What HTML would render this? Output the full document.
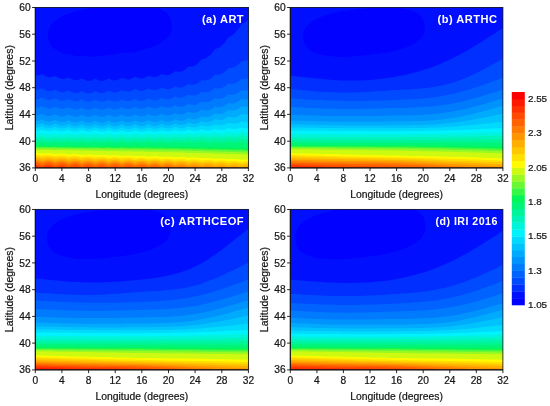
<!DOCTYPE html>
<html lang="en"><head><meta charset="utf-8"><title>Figure</title>
<style>html,body{margin:0;padding:0;background:#fff}body{width:550px;height:406px;overflow:hidden}svg{display:block;font-family:"Liberation Sans",Arial,sans-serif}.tk text,.ax,.cb text{stroke:#151515;stroke-width:.22px}.tk text{font-size:10.2px;fill:#151515}.ax{font-size:10.35px;fill:#151515}.ay{font-size:10.5px}.cb text{font-size:9.9px;fill:#151515}.pl{font-size:10.4px;font-weight:bold;fill:#fff;letter-spacing:.45px}</style></head><body>
<svg width="550" height="406" viewBox="0 0 550 406">
<rect width="550" height="406" fill="#fff"/>
<clipPath id="clipa"><rect x="35.3" y="7.5" width="213.1" height="160.4"/></clipPath>
<g clip-path="url(#clipa)">
<rect x="35.3" y="7.5" width="213.1" height="160.4" fill="#ff0000"/>
<polygon fill="#ff3100" points="33.3,2.5 33.3,167.2 35.3,167.2 37,167.5 38.6,168.1 40.3,169 42,170.1 43.6,169.2 45.3,168.4 47,167.9 48.6,167.8 50.3,168.1 51.9,168.7 53.6,169.6 55.3,170.7 56.9,169.8 58.6,169 60.3,168.5 61.9,168.4 63.6,168.6 65.3,169.3 66.9,170.2 68.6,171.3 70.3,170.3 71.9,169.6 73.6,169.1 75.3,168.9 76.9,169.2 78.6,169.8 80.3,170.7 81.9,171.8 83.6,170.9 85.2,170.1 86.9,169.6 88.6,169.5 90.2,169.7 91.9,170.4 93.6,171.3 95.2,171.9 96.9,171.4 98.6,170.6 100.2,170.1 101.9,170 103.6,170.3 105.2,170.9 106.9,171.8 108.6,171.9 110.2,171.9 111.9,171.1 113.5,170.6 115.2,170.5 116.9,170.8 118.5,171.4 120.2,171.9 121.9,171.9 123.5,171.9 125.2,171.7 126.9,171.2 128.5,171.1 130.2,171.4 131.9,171.9 133.5,171.9 135.2,171.9 136.9,171.9 138.5,171.9 140.2,171.9 141.8,171.8 143.5,171.9 145.2,171.9 146.8,171.9 148.5,171.9 150.2,171.9 151.8,171.9 153.5,171.9 155.2,171.9 156.8,171.9 158.5,171.9 160.2,171.9 161.8,171.9 163.5,171.9 165.2,171.9 166.8,171.9 168.5,171.9 170.2,171.9 171.8,171.9 173.5,171.9 175.1,171.9 176.8,171.9 178.5,171.9 180.1,171.9 181.8,171.9 183.5,171.9 185.1,171.9 186.8,171.9 188.5,171.9 190.1,171.9 191.8,171.9 193.5,171.9 195.1,171.9 196.8,171.9 198.5,171.9 200.1,171.9 201.8,171.9 203.4,171.9 205.1,171.9 206.8,171.9 208.4,171.9 210.1,171.9 211.8,171.9 213.4,171.9 215.1,171.9 216.8,171.9 218.4,171.9 220.1,171.9 221.8,171.9 223.4,171.9 225.1,171.9 226.8,171.9 228.4,171.9 230.1,171.9 231.8,171.9 233.4,171.9 235.1,171.9 236.7,171.9 238.4,171.9 240.1,171.9 241.7,171.9 243.4,171.9 245.1,171.9 246.7,171.9 248.4,171.9 250.4,180.2 250.4,2.5"/>
<polygon fill="#ff4a00" points="33.3,2.5 33.3,165.5 35.3,165.5 37,165.8 38.6,166.4 40.3,167.2 42,168.2 43.6,167.3 45.3,166.6 47,166.2 48.6,166.1 50.3,166.3 51.9,166.9 53.6,167.7 55.3,168.7 56.9,167.9 58.6,167.1 60.3,166.7 61.9,166.6 63.6,166.8 65.3,167.4 66.9,168.2 68.6,169.2 70.3,168.4 71.9,167.6 73.6,167.2 75.3,167.1 76.9,167.3 78.6,167.9 80.3,168.7 81.9,169.7 83.6,168.8 85.2,168.1 86.9,167.7 88.6,167.5 90.2,167.8 91.9,168.4 93.6,169.2 95.2,170.2 96.9,169.3 98.6,168.6 100.2,168.1 101.9,168 103.6,168.2 105.2,168.8 106.9,169.6 108.6,170.6 110.2,169.7 111.9,169 113.5,168.6 115.2,168.4 116.9,168.7 118.5,169.3 120.2,170.1 121.9,171.1 123.5,170.2 125.2,169.5 126.9,169.1 128.5,168.9 130.2,169.2 131.9,169.8 133.5,170.6 135.2,171.6 136.9,170.8 138.5,170.1 140.2,169.6 141.8,169.5 143.5,169.8 145.2,170.4 146.8,171.3 148.5,171.9 150.2,171.5 151.8,170.8 153.5,170.3 155.2,170.3 156.8,170.5 158.5,171.2 160.2,171.9 161.8,171.9 163.5,171.9 165.2,171.6 166.8,171.2 168.5,171.1 170.2,171.4 171.8,171.9 173.5,171.9 175.1,171.9 176.8,171.9 178.5,171.9 180.1,171.9 181.8,171.9 183.5,171.9 185.1,171.9 186.8,171.9 188.5,171.9 190.1,171.9 191.8,171.9 193.5,171.9 195.1,171.9 196.8,171.9 198.5,171.9 200.1,171.9 201.8,171.9 203.4,171.9 205.1,171.9 206.8,171.9 208.4,171.9 210.1,171.9 211.8,171.9 213.4,171.9 215.1,171.9 216.8,171.9 218.4,171.9 220.1,171.9 221.8,171.9 223.4,171.9 225.1,171.9 226.8,171.9 228.4,171.9 230.1,171.9 231.8,171.9 233.4,171.9 235.1,171.9 236.7,171.9 238.4,171.9 240.1,171.9 241.7,171.9 243.4,171.9 245.1,171.9 246.7,171.9 248.4,171.9 250.4,177.5 250.4,2.5"/>
<polygon fill="#ff6300" points="33.3,2.5 33.3,163.8 35.3,163.8 37,164.1 38.6,164.6 40.3,165.4 42,166.3 43.6,165.5 45.3,164.8 47,164.4 48.6,164.3 50.3,164.5 51.9,165 53.6,165.8 55.3,166.7 56.9,165.9 58.6,165.3 60.3,164.8 61.9,164.7 63.6,164.9 65.3,165.5 66.9,166.2 68.6,167.1 70.3,166.3 71.9,165.7 73.6,165.2 75.3,165.1 76.9,165.3 78.6,165.9 80.3,166.6 81.9,167.5 83.6,166.7 85.2,166 86.9,165.6 88.6,165.5 90.2,165.7 91.9,166.2 93.6,167 95.2,167.9 96.9,167 98.6,166.4 100.2,165.9 101.9,165.8 103.6,166 105.2,166.5 106.9,167.3 108.6,168.2 110.2,167.4 111.9,166.7 113.5,166.3 115.2,166.1 116.9,166.3 118.5,166.9 120.2,167.6 121.9,168.5 123.5,167.7 125.2,167.1 126.9,166.6 128.5,166.5 130.2,166.8 131.9,167.3 133.5,168.1 135.2,169 136.9,168.2 138.5,167.5 140.2,167.1 141.8,167 143.5,167.3 145.2,167.8 146.8,168.6 148.5,169.6 150.2,168.8 151.8,168.2 153.5,167.8 155.2,167.7 156.8,168 158.5,168.6 160.2,169.4 161.8,170.3 163.5,169.6 165.2,169 166.8,168.6 168.5,168.6 170.2,168.9 171.8,169.5 173.5,170.3 175.1,171.2 176.8,170.5 178.5,169.9 180.1,169.6 181.8,169.5 183.5,169.8 185.1,170.4 186.8,171.3 188.5,171.9 190.1,171.5 191.8,170.9 193.5,170.6 195.1,170.5 196.8,170.8 198.5,171.4 200.1,171.9 201.8,171.9 203.4,171.9 205.1,171.9 206.8,171.6 208.4,171.6 210.1,171.9 211.8,171.9 213.4,171.9 215.1,171.9 216.8,171.9 218.4,171.9 220.1,171.9 221.8,171.9 223.4,171.9 225.1,171.9 226.8,171.9 228.4,171.9 230.1,171.9 231.8,171.9 233.4,171.9 235.1,171.9 236.7,171.9 238.4,171.9 240.1,171.9 241.7,171.9 243.4,171.9 245.1,171.9 246.7,171.9 248.4,171.9 250.4,174.8 250.4,2.5"/>
<polygon fill="#ff7c00" points="33.3,2.5 33.3,162.2 35.3,162.2 37,162.4 38.6,162.9 40.3,163.6 42,164.4 43.6,163.7 45.3,163.1 47,162.7 48.6,162.6 50.3,162.8 51.9,163.3 53.6,164 55.3,164.8 56.9,164.1 58.6,163.5 60.3,163.1 61.9,163 63.6,163.2 65.3,163.6 66.9,164.3 68.6,165.2 70.3,164.4 71.9,163.8 73.6,163.4 75.3,163.3 76.9,163.5 78.6,164 80.3,164.7 81.9,165.5 83.6,164.7 85.2,164.1 86.9,163.7 88.6,163.6 90.2,163.8 91.9,164.2 93.6,164.9 95.2,165.7 96.9,165 98.6,164.4 100.2,164 101.9,163.8 103.6,164 105.2,164.5 106.9,165.1 108.6,165.9 110.2,165.2 111.9,164.6 113.5,164.2 115.2,164 116.9,164.2 118.5,164.7 120.2,165.4 121.9,166.2 123.5,165.5 125.2,164.8 126.9,164.5 128.5,164.3 130.2,164.5 131.9,165 133.5,165.7 135.2,166.5 136.9,165.8 138.5,165.3 140.2,164.9 141.8,164.8 143.5,165 145.2,165.5 146.8,166.3 148.5,167.1 150.2,166.4 151.8,165.9 153.5,165.5 155.2,165.4 156.8,165.7 158.5,166.2 160.2,167 161.8,167.8 163.5,167.2 165.2,166.6 166.8,166.3 168.5,166.3 170.2,166.5 171.8,167.1 173.5,167.8 175.1,168.7 176.8,168.1 178.5,167.5 180.1,167.2 181.8,167.2 183.5,167.5 185.1,168 186.8,168.8 188.5,169.7 190.1,169.1 191.8,168.5 193.5,168.2 195.1,168.2 196.8,168.5 198.5,169 200.1,169.8 201.8,170.7 203.4,170.1 205.1,169.5 206.8,169.2 208.4,169.2 210.1,169.5 211.8,170 213.4,170.8 215.1,171.7 216.8,171.1 218.4,170.5 220.1,170.2 221.8,170.2 223.4,170.5 225.1,171 226.8,171.8 228.4,171.9 230.1,171.9 231.8,171.5 233.4,171.2 235.1,171.2 236.7,171.5 238.4,171.9 240.1,171.9 241.7,171.9 243.4,171.9 245.1,171.9 246.7,171.9 248.4,171.9 250.4,172.2 250.4,2.5"/>
<polygon fill="#ff9600" points="33.3,2.5 33.3,160.8 35.3,160.8 37,161 38.6,161.5 40.3,162.1 42,162.8 43.6,162.2 45.3,161.7 47,161.3 48.6,161.2 50.3,161.4 51.9,161.8 53.6,162.5 55.3,163.2 56.9,162.6 58.6,162 60.3,161.7 61.9,161.6 63.6,161.8 65.3,162.2 66.9,162.8 68.6,163.6 70.3,162.9 71.9,162.4 73.6,162 75.3,161.9 76.9,162.1 78.6,162.5 80.3,163.1 81.9,163.9 83.6,163.2 85.2,162.7 86.9,162.3 88.6,162.2 90.2,162.4 91.9,162.8 93.6,163.4 95.2,164.1 96.9,163.4 98.6,162.9 100.2,162.5 101.9,162.4 103.6,162.6 105.2,163 106.9,163.6 108.6,164.3 110.2,163.6 111.9,163.1 113.5,162.7 115.2,162.6 116.9,162.8 118.5,163.2 120.2,163.8 121.9,164.5 123.5,163.9 125.2,163.3 126.9,163 128.5,162.9 130.2,163.1 131.9,163.5 133.5,164.1 135.2,164.9 136.9,164.2 138.5,163.7 140.2,163.4 141.8,163.3 143.5,163.5 145.2,163.9 146.8,164.6 148.5,165.3 150.2,164.7 151.8,164.2 153.5,163.9 155.2,163.8 156.8,164.1 158.5,164.5 160.2,165.2 161.8,166 163.5,165.4 165.2,164.9 166.8,164.6 168.5,164.5 170.2,164.8 171.8,165.3 173.5,165.9 175.1,166.7 176.8,166.1 178.5,165.7 180.1,165.4 181.8,165.3 183.5,165.6 185.1,166.1 186.8,166.8 188.5,167.6 190.1,167 191.8,166.5 193.5,166.2 195.1,166.2 196.8,166.4 198.5,166.9 200.1,167.6 201.8,168.4 203.4,167.8 205.1,167.4 206.8,167.1 208.4,167.1 210.1,167.3 211.8,167.8 213.4,168.5 215.1,169.3 216.8,168.7 218.4,168.2 220.1,167.9 221.8,167.9 223.4,168.2 225.1,168.7 226.8,169.4 228.4,170.2 230.1,169.6 231.8,169.1 233.4,168.8 235.1,168.8 236.7,169 238.4,169.5 240.1,170.2 241.7,171 243.4,170.4 245.1,170 246.7,169.7 248.4,169.7 250.4,169.7 250.4,2.5"/>
<polygon fill="#ffaf00" points="33.3,2.5 33.3,159.5 35.3,159.5 37,159.7 38.6,160 40.3,160.6 42,161.2 43.6,160.7 45.3,160.2 47,159.9 48.6,159.9 50.3,160 51.9,160.4 53.6,161 55.3,161.6 56.9,161.1 58.6,160.6 60.3,160.3 61.9,160.2 63.6,160.4 65.3,160.8 66.9,161.3 68.6,162 70.3,161.4 71.9,161 73.6,160.7 75.3,160.6 76.9,160.7 78.6,161.1 80.3,161.7 81.9,162.3 83.6,161.7 85.2,161.3 86.9,161 88.6,160.9 90.2,161 91.9,161.4 93.6,161.9 95.2,162.6 96.9,162 98.6,161.5 100.2,161.2 101.9,161.1 103.6,161.3 105.2,161.6 106.9,162.2 108.6,162.8 110.2,162.2 111.9,161.8 113.5,161.4 115.2,161.4 116.9,161.5 118.5,161.9 120.2,162.4 121.9,163 123.5,162.5 125.2,162 126.9,161.7 128.5,161.6 130.2,161.8 131.9,162.2 133.5,162.7 135.2,163.3 136.9,162.8 138.5,162.3 140.2,162 141.8,162 143.5,162.2 145.2,162.5 146.8,163.1 148.5,163.7 150.2,163.2 151.8,162.8 153.5,162.5 155.2,162.5 156.8,162.6 158.5,163 160.2,163.6 161.8,164.3 163.5,163.8 165.2,163.3 166.8,163.1 168.5,163 170.2,163.2 171.8,163.6 173.5,164.2 175.1,164.9 176.8,164.4 178.5,164 180.1,163.7 181.8,163.7 183.5,163.9 185.1,164.3 186.8,164.9 188.5,165.6 190.1,165.1 191.8,164.7 193.5,164.4 195.1,164.4 196.8,164.6 198.5,165 200.1,165.6 201.8,166.3 203.4,165.8 205.1,165.4 206.8,165.1 208.4,165.1 210.1,165.3 211.8,165.7 213.4,166.3 215.1,167 216.8,166.5 218.4,166.1 220.1,165.8 221.8,165.8 223.4,166 225.1,166.4 226.8,167 228.4,167.7 230.1,167.2 231.8,166.8 233.4,166.6 235.1,166.5 236.7,166.8 238.4,167.2 240.1,167.8 241.7,168.5 243.4,168 245.1,167.5 246.7,167.3 248.4,167.3 250.4,167.3 250.4,2.5"/>
<polygon fill="#ffc800" points="33.3,2.5 33.3,157.8 35.3,157.8 37,158 38.6,158.3 40.3,158.8 42,159.3 43.6,158.9 45.3,158.5 47,158.3 48.6,158.2 50.3,158.4 51.9,158.7 53.6,159.2 55.3,159.7 56.9,159.3 58.6,158.9 60.3,158.7 61.9,158.6 63.6,158.8 65.3,159.1 66.9,159.6 68.6,160.1 70.3,159.7 71.9,159.3 73.6,159.1 75.3,159 76.9,159.2 78.6,159.5 80.3,160 81.9,160.5 83.6,160 85.2,159.7 86.9,159.4 88.6,159.4 90.2,159.5 91.9,159.8 93.6,160.3 95.2,160.8 96.9,160.4 98.6,160 100.2,159.8 101.9,159.7 103.6,159.8 105.2,160.1 106.9,160.6 108.6,161.1 110.2,160.7 111.9,160.3 113.5,160.1 115.2,160 116.9,160.1 118.5,160.4 120.2,160.9 121.9,161.4 123.5,161 125.2,160.6 126.9,160.4 128.5,160.3 130.2,160.4 131.9,160.8 133.5,161.2 135.2,161.8 136.9,161.3 138.5,160.9 140.2,160.7 141.8,160.7 143.5,160.8 145.2,161.1 146.8,161.6 148.5,162.2 150.2,161.7 151.8,161.4 153.5,161.1 155.2,161.1 156.8,161.2 158.5,161.6 160.2,162.1 161.8,162.6 163.5,162.2 165.2,161.8 166.8,161.6 168.5,161.6 170.2,161.7 171.8,162.1 173.5,162.6 175.1,163.1 176.8,162.7 178.5,162.3 180.1,162.1 181.8,162.1 183.5,162.3 185.1,162.6 186.8,163.1 188.5,163.7 190.1,163.2 191.8,162.9 193.5,162.7 195.1,162.7 196.8,162.8 198.5,163.2 200.1,163.7 201.8,164.2 203.4,163.8 205.1,163.5 206.8,163.3 208.4,163.3 210.1,163.4 211.8,163.8 213.4,164.3 215.1,164.8 216.8,164.4 218.4,164.1 220.1,163.9 221.8,163.9 223.4,164 225.1,164.4 226.8,164.9 228.4,165.4 230.1,165 231.8,164.7 233.4,164.5 235.1,164.5 236.7,164.6 238.4,165 240.1,165.5 241.7,166.1 243.4,165.7 245.1,165.3 246.7,165.1 248.4,165.1 250.4,165.1 250.4,2.5"/>
<polygon fill="#ffe100" points="33.3,2.5 33.3,156.1 35.3,156.1 37,156.2 38.6,156.5 40.3,156.9 42,157.3 43.6,157 45.3,156.7 47,156.6 48.6,156.5 50.3,156.7 51.9,156.9 53.6,157.3 55.3,157.8 56.9,157.4 58.6,157.2 60.3,157 61.9,157 63.6,157.1 65.3,157.4 66.9,157.8 68.6,158.2 70.3,157.9 71.9,157.6 73.6,157.4 75.3,157.4 76.9,157.5 78.6,157.8 80.3,158.2 81.9,158.6 83.6,158.3 85.2,158 86.9,157.8 88.6,157.8 90.2,157.9 91.9,158.2 93.6,158.6 95.2,159 96.9,158.7 98.6,158.4 100.2,158.2 101.9,158.2 103.6,158.3 105.2,158.6 106.9,158.9 108.6,159.4 110.2,159 111.9,158.8 113.5,158.6 115.2,158.5 116.9,158.7 118.5,158.9 120.2,159.3 121.9,159.8 123.5,159.4 125.2,159.1 126.9,158.9 128.5,158.9 130.2,159 131.9,159.3 133.5,159.7 135.2,160.1 136.9,159.8 138.5,159.5 140.2,159.3 141.8,159.3 143.5,159.4 145.2,159.7 146.8,160.1 148.5,160.5 150.2,160.2 151.8,159.9 153.5,159.7 155.2,159.7 156.8,159.8 158.5,160.1 160.2,160.5 161.8,160.9 163.5,160.6 165.2,160.3 166.8,160.1 168.5,160.1 170.2,160.2 171.8,160.5 173.5,160.9 175.1,161.3 176.8,161 178.5,160.7 180.1,160.5 181.8,160.5 183.5,160.7 185.1,160.9 186.8,161.3 188.5,161.8 190.1,161.4 191.8,161.2 193.5,161 195.1,161 196.8,161.1 198.5,161.4 200.1,161.8 201.8,162.3 203.4,161.9 205.1,161.7 206.8,161.5 208.4,161.5 210.1,161.6 211.8,161.9 213.4,162.3 215.1,162.8 216.8,162.4 218.4,162.2 220.1,162 221.8,162 223.4,162.1 225.1,162.4 226.8,162.8 228.4,163.3 230.1,163 231.8,162.7 233.4,162.6 235.1,162.5 236.7,162.7 238.4,163 240.1,163.4 241.7,163.8 243.4,163.5 245.1,163.2 246.7,163.1 248.4,163.1 250.4,163.1 250.4,2.5"/>
<polygon fill="#fffa00" points="33.3,2.5 33.3,154.6 35.3,154.6 37,154.7 38.6,155 40.3,155.3 42,155.6 43.6,155.4 45.3,155.2 47,155.1 48.6,155.1 50.3,155.2 51.9,155.4 53.6,155.7 55.3,156.1 56.9,155.8 58.6,155.6 60.3,155.5 61.9,155.5 63.6,155.6 65.3,155.8 66.9,156.1 68.6,156.5 70.3,156.3 71.9,156.1 73.6,155.9 75.3,155.9 76.9,156.1 78.6,156.3 80.3,156.6 81.9,156.9 83.6,156.7 85.2,156.5 86.9,156.4 88.6,156.4 90.2,156.5 91.9,156.7 93.6,157 95.2,157.3 96.9,157.1 98.6,156.9 100.2,156.8 101.9,156.7 103.6,156.8 105.2,157.1 106.9,157.4 108.6,157.7 110.2,157.5 111.9,157.3 113.5,157.1 115.2,157.1 116.9,157.2 118.5,157.4 120.2,157.7 121.9,158.1 123.5,157.8 125.2,157.6 126.9,157.5 128.5,157.5 130.2,157.6 131.9,157.8 133.5,158.1 135.2,158.4 136.9,158.2 138.5,158 140.2,157.9 141.8,157.9 143.5,158 145.2,158.2 146.8,158.5 148.5,158.8 150.2,158.6 151.8,158.4 153.5,158.2 155.2,158.2 156.8,158.3 158.5,158.6 160.2,158.9 161.8,159.2 163.5,158.9 165.2,158.8 166.8,158.6 168.5,158.6 170.2,158.7 171.8,159 173.5,159.2 175.1,159.6 176.8,159.4 178.5,159.2 180.1,159 181.8,159 183.5,159.2 185.1,159.4 186.8,159.7 188.5,160 190.1,159.8 191.8,159.6 193.5,159.5 195.1,159.5 196.8,159.6 198.5,159.8 200.1,160.1 201.8,160.5 203.4,160.3 205.1,160.1 206.8,160 208.4,160 210.1,160.1 211.8,160.3 213.4,160.6 215.1,161 216.8,160.8 218.4,160.6 220.1,160.5 221.8,160.5 223.4,160.6 225.1,160.8 226.8,161.1 228.4,161.5 230.1,161.3 231.8,161.1 233.4,161 235.1,161 236.7,161.1 238.4,161.4 240.1,161.7 241.7,162 243.4,161.8 245.1,161.6 246.7,161.5 248.4,161.6 250.4,161.6 250.4,2.5"/>
<polygon fill="#cefa11" points="33.3,2.5 33.3,152.9 35.3,152.9 37,153 38.6,153.2 40.3,153.4 42,153.6 43.6,153.5 45.3,153.4 47,153.3 48.6,153.3 50.3,153.4 51.9,153.6 53.6,153.8 55.3,154 56.9,153.9 58.6,153.8 60.3,153.7 61.9,153.7 63.6,153.8 65.3,154 66.9,154.2 68.6,154.4 70.3,154.3 71.9,154.2 73.6,154.1 75.3,154.1 76.9,154.2 78.6,154.4 80.3,154.6 81.9,154.8 83.6,154.7 85.2,154.6 86.9,154.5 88.6,154.5 90.2,154.6 91.9,154.7 93.6,154.9 95.2,155.2 96.9,155 98.6,154.9 100.2,154.9 101.9,154.9 103.6,154.9 105.2,155.1 106.9,155.3 108.6,155.5 110.2,155.4 111.9,155.3 113.5,155.2 115.2,155.2 116.9,155.3 118.5,155.4 120.2,155.6 121.9,155.9 123.5,155.7 125.2,155.6 126.9,155.5 128.5,155.6 130.2,155.6 131.9,155.8 133.5,156 135.2,156.2 136.9,156.1 138.5,156 140.2,155.9 141.8,155.9 143.5,156 145.2,156.1 146.8,156.3 148.5,156.6 150.2,156.4 151.8,156.3 153.5,156.3 155.2,156.3 156.8,156.3 158.5,156.5 160.2,156.7 161.8,156.9 163.5,156.8 165.2,156.7 166.8,156.6 168.5,156.6 170.2,156.7 171.8,156.9 173.5,157.1 175.1,157.3 176.8,157.2 178.5,157.1 180.1,157 181.8,157.1 183.5,157.1 185.1,157.3 186.8,157.5 188.5,157.8 190.1,157.6 191.8,157.5 193.5,157.5 195.1,157.5 196.8,157.6 198.5,157.8 200.1,158 201.8,158.2 203.4,158.1 205.1,158 206.8,158 208.4,158 210.1,158.1 211.8,158.3 213.4,158.5 215.1,158.7 216.8,158.6 218.4,158.5 220.1,158.5 221.8,158.5 223.4,158.6 225.1,158.8 226.8,159 228.4,159.3 230.1,159.1 231.8,159.1 233.4,159 235.1,159 236.7,159.2 238.4,159.3 240.1,159.6 241.7,159.8 243.4,159.7 245.1,159.6 246.7,159.6 248.4,159.6 250.4,159.6 250.4,2.5"/>
<polygon fill="#9bf922" points="33.3,2.5 33.3,149.8 35.3,149.8 37,149.8 38.6,149.9 40.3,150 42,150.2 43.6,150.1 45.3,150 47,150 48.6,150 50.3,150.1 51.9,150.2 53.6,150.3 55.3,150.4 56.9,150.3 58.6,150.3 60.3,150.2 61.9,150.2 63.6,150.3 65.3,150.4 66.9,150.5 68.6,150.6 70.3,150.6 71.9,150.5 73.6,150.5 75.3,150.5 76.9,150.5 78.6,150.6 80.3,150.7 81.9,150.9 83.6,150.8 85.2,150.7 86.9,150.7 88.6,150.7 90.2,150.7 91.9,150.8 93.6,150.9 95.2,151.1 96.9,151 98.6,150.9 100.2,150.9 101.9,150.9 103.6,150.9 105.2,151 106.9,151.2 108.6,151.3 110.2,151.2 111.9,151.1 113.5,151.1 115.2,151.1 116.9,151.2 118.5,151.3 120.2,151.4 121.9,151.5 123.5,151.4 125.2,151.4 126.9,151.3 128.5,151.3 130.2,151.4 131.9,151.5 133.5,151.6 135.2,151.7 136.9,151.7 138.5,151.6 140.2,151.6 141.8,151.6 143.5,151.6 145.2,151.7 146.8,151.9 148.5,152 150.2,151.9 151.8,151.9 153.5,151.9 155.2,151.9 156.8,151.9 158.5,152 160.2,152.1 161.8,152.3 163.5,152.2 165.2,152.2 166.8,152.2 168.5,152.2 170.2,152.2 171.8,152.3 173.5,152.5 175.1,152.6 176.8,152.6 178.5,152.5 180.1,152.5 181.8,152.5 183.5,152.6 185.1,152.7 186.8,152.8 188.5,153 190.1,152.9 191.8,152.9 193.5,152.9 195.1,152.9 196.8,153 198.5,153.1 200.1,153.2 201.8,153.4 203.4,153.3 205.1,153.3 206.8,153.3 208.4,153.3 210.1,153.4 211.8,153.5 213.4,153.6 215.1,153.8 216.8,153.7 218.4,153.7 220.1,153.7 221.8,153.7 223.4,153.8 225.1,153.9 226.8,154 228.4,154.2 230.1,154.1 231.8,154.1 233.4,154.1 235.1,154.1 236.7,154.2 238.4,154.3 240.1,154.5 241.7,154.6 243.4,154.6 245.1,154.6 246.7,154.6 248.4,154.6 250.4,154.6 250.4,2.5"/>
<polygon fill="#68f834" points="33.3,2.5 33.3,148.4 35.3,148.4 37,148.4 38.6,148.5 40.3,148.5 42,148.6 43.6,148.6 45.3,148.6 47,148.6 48.6,148.6 50.3,148.6 51.9,148.7 53.6,148.7 55.3,148.7 56.9,148.8 58.6,148.8 60.3,148.8 61.9,148.8 63.6,148.8 65.3,148.8 66.9,148.9 68.6,148.9 70.3,148.9 71.9,148.9 73.6,148.9 75.3,149 76.9,149 78.6,149 80.3,149.1 81.9,149.1 83.6,149.1 85.2,149.1 86.9,149.1 88.6,149.1 90.2,149.2 91.9,149.2 93.6,149.2 95.2,149.3 96.9,149.3 98.6,149.3 100.2,149.3 101.9,149.3 103.6,149.3 105.2,149.3 106.9,149.4 108.6,149.4 110.2,149.4 111.9,149.4 113.5,149.4 115.2,149.4 116.9,149.5 118.5,149.5 120.2,149.5 121.9,149.6 123.5,149.6 125.2,149.6 126.9,149.6 128.5,149.6 130.2,149.6 131.9,149.7 133.5,149.7 135.2,149.7 136.9,149.7 138.5,149.7 140.2,149.8 141.8,149.8 143.5,149.8 145.2,149.9 146.8,149.9 148.5,149.9 150.2,150 151.8,150 153.5,150 155.2,150 156.8,150.1 158.5,150.1 160.2,150.1 161.8,150.2 163.5,150.2 165.2,150.2 166.8,150.3 168.5,150.3 170.2,150.3 171.8,150.4 173.5,150.4 175.1,150.5 176.8,150.5 178.5,150.5 180.1,150.6 181.8,150.6 183.5,150.6 185.1,150.7 186.8,150.7 188.5,150.8 190.1,150.8 191.8,150.8 193.5,150.9 195.1,150.9 196.8,151 198.5,151 200.1,151.1 201.8,151.1 203.4,151.2 205.1,151.2 206.8,151.2 208.4,151.3 210.1,151.3 211.8,151.4 213.4,151.5 215.1,151.5 216.8,151.6 218.4,151.6 220.1,151.6 221.8,151.7 223.4,151.7 225.1,151.8 226.8,151.8 228.4,151.9 230.1,151.9 231.8,152 233.4,152 235.1,152.1 236.7,152.1 238.4,152.2 240.1,152.2 241.7,152.3 243.4,152.3 245.1,152.4 246.7,152.4 248.4,152.5 250.4,152.5 250.4,2.5"/>
<polygon fill="#35f746" points="33.3,2.5 33.3,147.5 35.3,147.5 37,147.5 38.6,147.5 40.3,147.4 42,147.4 43.6,147.5 45.3,147.5 47,147.6 48.6,147.6 50.3,147.6 51.9,147.6 53.6,147.6 55.3,147.5 56.9,147.6 58.6,147.7 60.3,147.8 61.9,147.8 63.6,147.8 65.3,147.8 66.9,147.7 68.6,147.7 70.3,147.8 71.9,147.9 73.6,147.9 75.3,147.9 76.9,147.9 78.6,147.9 80.3,147.9 81.9,147.8 83.6,147.9 85.2,148 86.9,148 88.6,148.1 90.2,148.1 91.9,148 93.6,148 95.2,148 96.9,148 98.6,148.1 100.2,148.2 101.9,148.2 103.6,148.2 105.2,148.2 106.9,148.1 108.6,148.1 110.2,148.1 111.9,148.2 113.5,148.3 115.2,148.3 116.9,148.3 118.5,148.3 120.2,148.2 121.9,148.2 123.5,148.3 125.2,148.3 126.9,148.4 128.5,148.4 130.2,148.4 131.9,148.4 133.5,148.4 135.2,148.3 136.9,148.4 138.5,148.5 140.2,148.5 141.8,148.6 143.5,148.6 145.2,148.6 146.8,148.5 148.5,148.5 150.2,148.6 151.8,148.7 153.5,148.7 155.2,148.8 156.8,148.8 158.5,148.8 160.2,148.7 161.8,148.7 163.5,148.8 165.2,148.9 166.8,149 168.5,149 170.2,149 171.8,149 173.5,149 175.1,149 176.8,149.1 178.5,149.1 180.1,149.2 181.8,149.3 183.5,149.3 185.1,149.3 186.8,149.3 188.5,149.2 190.1,149.3 191.8,149.4 193.5,149.5 195.1,149.6 196.8,149.6 198.5,149.6 200.1,149.6 201.8,149.6 203.4,149.7 205.1,149.8 206.8,149.8 208.4,149.9 210.1,149.9 211.8,149.9 213.4,149.9 215.1,149.9 216.8,150 218.4,150.1 220.1,150.2 221.8,150.2 223.4,150.3 225.1,150.3 226.8,150.3 228.4,150.2 230.1,150.4 231.8,150.5 233.4,150.5 235.1,150.6 236.7,150.6 238.4,150.6 240.1,150.6 241.7,150.6 243.4,150.7 245.1,150.8 246.7,150.9 248.4,151 250.4,151 250.4,2.5"/>
<polygon fill="#02f657" points="33.3,2.5 33.3,146.8 35.3,146.8 37,146.8 38.6,146.7 40.3,146.6 42,146.4 43.6,146.6 45.3,146.8 47,146.9 48.6,146.9 50.3,146.9 51.9,146.8 53.6,146.7 55.3,146.6 56.9,146.8 58.6,146.9 60.3,147 61.9,147.1 63.6,147 65.3,147 66.9,146.9 68.6,146.7 70.3,146.9 71.9,147 73.6,147.1 75.3,147.2 76.9,147.2 78.6,147.1 80.3,147 81.9,146.8 83.6,147 85.2,147.1 86.9,147.2 88.6,147.3 90.2,147.3 91.9,147.2 93.6,147.1 95.2,146.9 96.9,147.1 98.6,147.2 100.2,147.3 101.9,147.4 103.6,147.4 105.2,147.3 106.9,147.2 108.6,147 110.2,147.2 111.9,147.3 113.5,147.4 115.2,147.5 116.9,147.4 118.5,147.4 120.2,147.3 121.9,147.1 123.5,147.3 125.2,147.4 126.9,147.5 128.5,147.6 130.2,147.5 131.9,147.5 133.5,147.4 135.2,147.2 136.9,147.4 138.5,147.5 140.2,147.6 141.8,147.7 143.5,147.7 145.2,147.6 146.8,147.5 148.5,147.4 150.2,147.5 151.8,147.7 153.5,147.8 155.2,147.9 156.8,147.8 158.5,147.8 160.2,147.7 161.8,147.6 163.5,147.7 165.2,147.9 166.8,148 168.5,148.1 170.2,148.1 171.8,148 173.5,147.9 175.1,147.8 176.8,148 178.5,148.1 180.1,148.2 181.8,148.3 183.5,148.3 185.1,148.2 186.8,148.2 188.5,148 190.1,148.2 191.8,148.4 193.5,148.5 195.1,148.6 196.8,148.6 198.5,148.5 200.1,148.4 201.8,148.3 203.4,148.5 205.1,148.7 206.8,148.8 208.4,148.8 210.1,148.9 211.8,148.8 213.4,148.7 215.1,148.6 216.8,148.8 218.4,149 220.1,149.1 221.8,149.1 223.4,149.2 225.1,149.1 226.8,149 228.4,148.9 230.1,149.1 231.8,149.3 233.4,149.4 235.1,149.5 236.7,149.5 238.4,149.4 240.1,149.3 241.7,149.2 243.4,149.4 245.1,149.6 246.7,149.7 248.4,149.8 250.4,149.8 250.4,2.5"/>
<polygon fill="#00f578" points="33.3,2.5 33.3,145.8 35.3,145.8 37,145.8 38.6,145.7 40.3,145.5 42,145.3 43.6,145.5 45.3,145.7 47,145.9 48.6,145.9 50.3,145.9 51.9,145.8 53.6,145.6 55.3,145.4 56.9,145.7 58.6,145.9 60.3,146 61.9,146 63.6,146 65.3,145.9 66.9,145.7 68.6,145.5 70.3,145.8 71.9,146 73.6,146.1 75.3,146.1 76.9,146.1 78.6,146 80.3,145.8 81.9,145.6 83.6,145.8 85.2,146 86.9,146.2 88.6,146.2 90.2,146.2 91.9,146.1 93.6,145.9 95.2,145.7 96.9,145.9 98.6,146.1 100.2,146.2 101.9,146.3 103.6,146.3 105.2,146.1 106.9,146 108.6,145.8 110.2,146 111.9,146.2 113.5,146.3 115.2,146.4 116.9,146.3 118.5,146.2 120.2,146 121.9,145.8 123.5,146.1 125.2,146.2 126.9,146.4 128.5,146.4 130.2,146.4 131.9,146.3 133.5,146.1 135.2,145.9 136.9,146.1 138.5,146.3 140.2,146.5 141.8,146.5 143.5,146.5 145.2,146.4 146.8,146.2 148.5,146 150.2,146.3 151.8,146.5 153.5,146.6 155.2,146.7 156.8,146.6 158.5,146.5 160.2,146.4 161.8,146.2 163.5,146.4 165.2,146.6 166.8,146.8 168.5,146.8 170.2,146.8 171.8,146.7 173.5,146.5 175.1,146.4 176.8,146.6 178.5,146.8 180.1,146.9 181.8,147 183.5,147 185.1,146.9 186.8,146.7 188.5,146.6 190.1,146.8 191.8,147 193.5,147.2 195.1,147.2 196.8,147.2 198.5,147.1 200.1,147 201.8,146.8 203.4,147 205.1,147.2 206.8,147.4 208.4,147.4 210.1,147.4 211.8,147.3 213.4,147.2 215.1,147 216.8,147.2 218.4,147.4 220.1,147.6 221.8,147.7 223.4,147.6 225.1,147.6 226.8,147.4 228.4,147.2 230.1,147.5 231.8,147.7 233.4,147.8 235.1,147.9 236.7,147.9 238.4,147.8 240.1,147.6 241.7,147.4 243.4,147.7 245.1,147.9 246.7,148.1 248.4,148.1 250.4,148.1 250.4,2.5"/>
<polygon fill="#00f499" points="33.3,2.5 33.3,142.6 35.3,142.6 37,142.5 38.6,142.4 40.3,142.2 42,141.9 43.6,142.2 45.3,142.4 47,142.6 48.6,142.6 50.3,142.6 51.9,142.4 53.6,142.2 55.3,141.9 56.9,142.2 58.6,142.4 60.3,142.6 61.9,142.6 63.6,142.6 65.3,142.4 66.9,142.2 68.6,141.9 70.3,142.2 71.9,142.4 73.6,142.6 75.3,142.7 76.9,142.6 78.6,142.5 80.3,142.2 81.9,142 83.6,142.2 85.2,142.5 86.9,142.6 88.6,142.7 90.2,142.6 91.9,142.5 93.6,142.3 95.2,142 96.9,142.3 98.6,142.5 100.2,142.7 101.9,142.7 103.6,142.7 105.2,142.5 106.9,142.3 108.6,142 110.2,142.3 111.9,142.5 113.5,142.7 115.2,142.7 116.9,142.7 118.5,142.5 120.2,142.3 121.9,142 123.5,142.3 125.2,142.6 126.9,142.7 128.5,142.8 130.2,142.7 131.9,142.6 133.5,142.3 135.2,142.1 136.9,142.3 138.5,142.6 140.2,142.7 141.8,142.8 143.5,142.7 145.2,142.6 146.8,142.3 148.5,142.1 150.2,142.3 151.8,142.6 153.5,142.7 155.2,142.8 156.8,142.7 158.5,142.6 160.2,142.4 161.8,142.1 163.5,142.4 165.2,142.6 166.8,142.7 168.5,142.8 170.2,142.7 171.8,142.6 173.5,142.4 175.1,142.1 176.8,142.3 178.5,142.6 180.1,142.7 181.8,142.8 183.5,142.7 185.1,142.6 186.8,142.3 188.5,142.1 190.1,142.3 191.8,142.6 193.5,142.7 195.1,142.8 196.8,142.7 198.5,142.6 200.1,142.3 201.8,142.1 203.4,142.3 205.1,142.6 206.8,142.7 208.4,142.8 210.1,142.7 211.8,142.6 213.4,142.3 215.1,142.1 216.8,142.3 218.4,142.6 220.1,142.7 221.8,142.8 223.4,142.7 225.1,142.6 226.8,142.3 228.4,142.1 230.1,142.3 231.8,142.6 233.4,142.7 235.1,142.8 236.7,142.7 238.4,142.6 240.1,142.3 241.7,142.1 243.4,142.3 245.1,142.6 246.7,142.7 248.4,142.8 250.4,142.8 250.4,2.5"/>
<polygon fill="#00f4ba" points="33.3,2.5 33.3,140.1 35.3,140.1 37,140 38.6,139.8 40.3,139.6 42,139.2 43.6,139.6 45.3,139.8 47,140 48.6,140.1 50.3,140 51.9,139.9 53.6,139.6 55.3,139.2 56.9,139.6 58.6,139.9 60.3,140.1 61.9,140.1 63.6,140.1 65.3,139.9 66.9,139.6 68.6,139.3 70.3,139.6 71.9,139.9 73.6,140.1 75.3,140.1 76.9,140.1 78.6,139.9 80.3,139.6 81.9,139.3 83.6,139.6 85.2,139.9 86.9,140.1 88.6,140.1 90.2,140.1 91.9,139.9 93.6,139.6 95.2,139.3 96.9,139.6 98.6,139.9 100.2,140.1 101.9,140.2 103.6,140.1 105.2,139.9 106.9,139.6 108.6,139.3 110.2,139.6 111.9,139.9 113.5,140.1 115.2,140.2 116.9,140.1 118.5,139.9 120.2,139.6 121.9,139.3 123.5,139.6 125.2,139.9 126.9,140.1 128.5,140.1 130.2,140.1 131.9,139.9 133.5,139.6 135.2,139.2 136.9,139.6 138.5,139.9 140.2,140 141.8,140.1 143.5,140 145.2,139.8 146.8,139.6 148.5,139.2 150.2,139.5 151.8,139.8 153.5,140 155.2,140.1 156.8,140 158.5,139.8 160.2,139.5 161.8,139.2 163.5,139.5 165.2,139.8 166.8,139.9 168.5,140 170.2,139.9 171.8,139.7 173.5,139.4 175.1,139.1 176.8,139.4 178.5,139.7 180.1,139.9 181.8,139.9 183.5,139.8 185.1,139.6 186.8,139.3 188.5,139 190.1,139.3 191.8,139.6 193.5,139.8 195.1,139.8 196.8,139.7 198.5,139.5 200.1,139.2 201.8,138.9 203.4,139.2 205.1,139.5 206.8,139.6 208.4,139.7 210.1,139.6 211.8,139.4 213.4,139.1 215.1,138.7 216.8,139.1 218.4,139.3 220.1,139.5 221.8,139.6 223.4,139.5 225.1,139.3 226.8,139 228.4,138.6 230.1,138.9 231.8,139.2 233.4,139.4 235.1,139.4 236.7,139.3 238.4,139.1 240.1,138.8 241.7,138.5 243.4,138.8 245.1,139.1 246.7,139.2 248.4,139.3 250.4,139.3 250.4,2.5"/>
<polygon fill="#00f3db" points="33.3,2.5 33.3,137.6 35.3,137.6 37,137.5 38.6,137.3 40.3,137 42,136.6 43.6,137 45.3,137.3 47,137.6 48.6,137.6 50.3,137.6 51.9,137.4 53.6,137 55.3,136.6 56.9,137 58.6,137.4 60.3,137.6 61.9,137.7 63.6,137.6 65.3,137.4 66.9,137 68.6,136.7 70.3,137.1 71.9,137.4 73.6,137.6 75.3,137.7 76.9,137.6 78.6,137.4 80.3,137.1 81.9,136.7 83.6,137.1 85.2,137.4 86.9,137.6 88.6,137.7 90.2,137.6 91.9,137.4 93.6,137.1 95.2,136.7 96.9,137.1 98.6,137.4 100.2,137.6 101.9,137.7 103.6,137.6 105.2,137.4 106.9,137.1 108.6,136.7 110.2,137.1 111.9,137.4 113.5,137.6 115.2,137.7 116.9,137.6 118.5,137.4 120.2,137.1 121.9,136.6 123.5,137 125.2,137.4 126.9,137.6 128.5,137.7 130.2,137.6 131.9,137.4 133.5,137 135.2,136.6 136.9,137 138.5,137.3 140.2,137.5 141.8,137.6 143.5,137.5 145.2,137.3 146.8,136.9 148.5,136.5 150.2,136.9 151.8,137.3 153.5,137.5 155.2,137.5 156.8,137.4 158.5,137.2 160.2,136.9 161.8,136.4 163.5,136.8 165.2,137.2 166.8,137.4 168.5,137.4 170.2,137.3 171.8,137.1 173.5,136.7 175.1,136.3 176.8,136.7 178.5,137 180.1,137.2 181.8,137.3 183.5,137.2 185.1,136.9 186.8,136.6 188.5,136.2 190.1,136.5 191.8,136.9 193.5,137.1 195.1,137.1 196.8,137 198.5,136.8 200.1,136.4 201.8,136 203.4,136.3 205.1,136.7 206.8,136.9 208.4,136.9 210.1,136.8 211.8,136.5 213.4,136.2 215.1,135.7 216.8,136.1 218.4,136.4 220.1,136.6 221.8,136.7 223.4,136.5 225.1,136.3 226.8,135.9 228.4,135.5 230.1,135.9 231.8,136.2 233.4,136.3 235.1,136.4 236.7,136.3 238.4,136 240.1,135.6 241.7,135.2 243.4,135.6 245.1,135.9 246.7,136.1 248.4,136.1 250.4,136.1 250.4,2.5"/>
<polygon fill="#00f2fc" points="33.3,2.5 33.3,134.4 35.3,134.4 37,134.4 38.6,134.1 40.3,133.7 42,133.3 43.6,133.7 45.3,134.1 47,134.4 48.6,134.5 50.3,134.4 51.9,134.2 53.6,133.8 55.3,133.3 56.9,133.8 58.6,134.2 60.3,134.5 61.9,134.6 63.6,134.5 65.3,134.2 66.9,133.9 68.6,133.4 70.3,133.9 71.9,134.3 73.6,134.5 75.3,134.6 76.9,134.6 78.6,134.3 80.3,133.9 81.9,133.5 83.6,133.9 85.2,134.3 86.9,134.6 88.6,134.7 90.2,134.6 91.9,134.4 93.6,134 95.2,133.5 96.9,134 98.6,134.4 100.2,134.7 101.9,134.8 103.6,134.7 105.2,134.4 106.9,134 108.6,133.6 110.2,134 111.9,134.4 113.5,134.7 115.2,134.8 116.9,134.7 118.5,134.4 120.2,134 121.9,133.6 123.5,134.1 125.2,134.4 126.9,134.7 128.5,134.8 130.2,134.7 131.9,134.4 133.5,134 135.2,133.6 136.9,134 138.5,134.4 140.2,134.7 141.8,134.8 143.5,134.7 145.2,134.4 146.8,134 148.5,133.5 150.2,134 151.8,134.3 153.5,134.6 155.2,134.7 156.8,134.6 158.5,134.3 160.2,133.9 161.8,133.4 163.5,133.9 165.2,134.2 166.8,134.5 168.5,134.5 170.2,134.4 171.8,134.1 173.5,133.7 175.1,133.2 176.8,133.7 178.5,134 180.1,134.3 181.8,134.3 183.5,134.2 185.1,133.9 186.8,133.5 188.5,133 190.1,133.5 191.8,133.8 193.5,134 195.1,134.1 196.8,134 198.5,133.7 200.1,133.2 201.8,132.8 203.4,133.2 205.1,133.5 206.8,133.7 208.4,133.8 210.1,133.7 211.8,133.4 213.4,132.9 215.1,132.4 216.8,132.8 218.4,133.2 220.1,133.4 221.8,133.4 223.4,133.3 225.1,133 226.8,132.6 228.4,132.1 230.1,132.5 231.8,132.8 233.4,133 235.1,133.1 236.7,132.9 238.4,132.6 240.1,132.2 241.7,131.7 243.4,132.1 245.1,132.4 246.7,132.6 248.4,132.7 250.4,132.7 250.4,2.5"/>
<polygon fill="#00dbfd" points="33.3,2.5 33.3,131.1 35.3,131.1 37,131 38.6,130.7 40.3,130.2 42,129.7 43.6,130.3 45.3,130.8 47,131.1 48.6,131.2 50.3,131.1 51.9,130.8 53.6,130.4 55.3,129.8 56.9,130.4 58.6,130.9 60.3,131.2 61.9,131.3 63.6,131.3 65.3,130.9 66.9,130.5 68.6,129.9 70.3,130.5 71.9,131 73.6,131.3 75.3,131.5 76.9,131.4 78.6,131.1 80.3,130.6 81.9,130.1 83.6,130.6 85.2,131.1 86.9,131.5 88.6,131.6 90.2,131.5 91.9,131.2 93.6,130.7 95.2,130.2 96.9,130.7 98.6,131.2 100.2,131.6 101.9,131.7 103.6,131.6 105.2,131.3 106.9,130.8 108.6,130.3 110.2,130.8 111.9,131.3 113.5,131.6 115.2,131.8 116.9,131.7 118.5,131.4 120.2,130.9 121.9,130.3 123.5,130.9 125.2,131.4 126.9,131.7 128.5,131.8 130.2,131.7 131.9,131.4 133.5,130.9 135.2,130.3 136.9,130.9 138.5,131.4 140.2,131.7 141.8,131.8 143.5,131.7 145.2,131.3 146.8,130.9 148.5,130.3 150.2,130.8 151.8,131.3 153.5,131.6 155.2,131.7 156.8,131.6 158.5,131.2 160.2,130.7 161.8,130.2 163.5,130.7 165.2,131.1 166.8,131.4 168.5,131.5 170.2,131.4 171.8,131 173.5,130.5 175.1,129.9 176.8,130.5 178.5,130.9 180.1,131.2 181.8,131.3 183.5,131.1 185.1,130.7 186.8,130.2 188.5,129.6 190.1,130.1 191.8,130.6 193.5,130.8 195.1,130.9 196.8,130.7 198.5,130.4 200.1,129.8 201.8,129.2 203.4,129.7 205.1,130.1 206.8,130.4 208.4,130.4 210.1,130.2 211.8,129.9 213.4,129.3 215.1,128.7 216.8,129.2 218.4,129.6 220.1,129.8 221.8,129.9 223.4,129.7 225.1,129.3 226.8,128.7 228.4,128.1 230.1,128.6 231.8,129 233.4,129.2 235.1,129.2 236.7,129 238.4,128.6 240.1,128.1 241.7,127.4 243.4,127.9 245.1,128.3 246.7,128.6 248.4,128.6 250.4,128.6 250.4,2.5"/>
<polygon fill="#00c3fe" points="33.3,2.5 33.3,128.1 35.3,128.1 37,128 38.6,127.6 40.3,127.1 42,126.5 43.6,127.2 45.3,127.8 47,128.2 48.6,128.3 50.3,128.2 51.9,127.9 53.6,127.3 55.3,126.7 56.9,127.4 58.6,128 60.3,128.4 61.9,128.5 63.6,128.4 65.3,128.1 66.9,127.5 68.6,126.9 70.3,127.6 71.9,128.2 73.6,128.6 75.3,128.7 76.9,128.6 78.6,128.2 80.3,127.7 81.9,127.1 83.6,127.7 85.2,128.3 86.9,128.7 88.6,128.9 90.2,128.7 91.9,128.4 93.6,127.8 95.2,127.2 96.9,127.9 98.6,128.4 100.2,128.8 101.9,129 103.6,128.8 105.2,128.5 106.9,127.9 108.6,127.3 110.2,127.9 111.9,128.5 113.5,128.9 115.2,129 116.9,128.9 118.5,128.5 120.2,128 121.9,127.3 123.5,128 125.2,128.5 126.9,128.9 128.5,129 130.2,128.9 131.9,128.5 133.5,127.9 135.2,127.3 136.9,127.9 138.5,128.5 140.2,128.9 141.8,129 143.5,128.8 145.2,128.5 146.8,127.9 148.5,127.2 150.2,127.9 151.8,128.4 153.5,128.8 155.2,128.9 156.8,128.7 158.5,128.3 160.2,127.7 161.8,127 163.5,127.7 165.2,128.2 166.8,128.5 168.5,128.6 170.2,128.5 171.8,128 173.5,127.4 175.1,126.7 176.8,127.3 178.5,127.8 180.1,128.1 181.8,128.2 183.5,128 185.1,127.6 186.8,126.9 188.5,126.2 190.1,126.7 191.8,127.2 193.5,127.5 195.1,127.5 196.8,127.3 198.5,126.8 200.1,126.1 201.8,125.3 203.4,125.9 205.1,126.3 206.8,126.5 208.4,126.5 210.1,126.2 211.8,125.7 213.4,125 215.1,124.2 216.8,124.7 218.4,125.1 220.1,125.3 221.8,125.3 223.4,125 225.1,124.4 226.8,123.7 228.4,122.8 230.1,123.3 231.8,123.7 233.4,123.9 235.1,123.8 236.7,123.5 238.4,123 240.1,122.2 241.7,121.4 243.4,121.8 245.1,122.2 246.7,122.4 248.4,122.3 250.4,122.3 250.4,2.5"/>
<polygon fill="#00abfe" points="33.3,2.5 33.3,125.1 35.3,125.1 37,125 38.6,124.6 40.3,124 42,123.3 43.6,124.1 45.3,124.8 47,125.2 48.6,125.4 50.3,125.3 51.9,124.9 53.6,124.3 55.3,123.6 56.9,124.4 58.6,125.1 60.3,125.5 61.9,125.7 63.6,125.6 65.3,125.2 66.9,124.6 68.6,123.9 70.3,124.7 71.9,125.3 73.6,125.8 75.3,126 76.9,125.9 78.6,125.5 80.3,124.8 81.9,124.1 83.6,124.9 85.2,125.5 86.9,126 88.6,126.2 90.2,126 91.9,125.6 93.6,125 95.2,124.2 96.9,125 98.6,125.6 100.2,126.1 101.9,126.2 103.6,126.1 105.2,125.7 106.9,125 108.6,124.2 110.2,125 111.9,125.7 113.5,126.1 115.2,126.2 116.9,126.1 118.5,125.6 120.2,125 121.9,124.2 123.5,125 125.2,125.6 126.9,126 128.5,126.2 130.2,126 131.9,125.6 133.5,124.9 135.2,124.1 136.9,124.9 138.5,125.5 140.2,126 141.8,126.1 143.5,125.9 145.2,125.5 146.8,124.8 148.5,124 150.2,124.8 151.8,125.4 153.5,125.8 155.2,126 156.8,125.8 158.5,125.3 160.2,124.6 161.8,123.8 163.5,124.6 165.2,125.2 166.8,125.6 168.5,125.7 170.2,125.4 171.8,124.9 173.5,124.2 175.1,123.4 176.8,124.1 178.5,124.6 180.1,125 181.8,125 183.5,124.7 185.1,124.2 186.8,123.4 188.5,122.5 190.1,123.1 191.8,123.6 193.5,123.9 195.1,123.9 196.8,123.5 198.5,122.9 200.1,122 201.8,121 203.4,121.6 205.1,122 206.8,122.2 208.4,122.1 210.1,121.7 211.8,121 213.4,120.1 215.1,119 216.8,119.5 218.4,119.8 220.1,120 221.8,119.8 223.4,119.4 225.1,118.6 226.8,117.6 228.4,116.5 230.1,117 231.8,117.3 233.4,117.4 235.1,117.2 236.7,116.7 238.4,115.9 240.1,114.9 241.7,113.8 243.4,114.2 245.1,114.5 246.7,114.6 248.4,114.4 250.4,114.4 250.4,2.5"/>
<polygon fill="#0093fe" points="33.3,2.5 33.3,121.3 35.3,121.3 37,121.2 38.6,120.8 40.3,120.2 42,119.5 43.6,120.3 45.3,121 47,121.5 48.6,121.7 50.3,121.6 51.9,121.2 53.6,120.6 55.3,119.9 56.9,120.7 58.6,121.4 60.3,121.9 61.9,122.1 63.6,122 65.3,121.6 66.9,121 68.6,120.2 70.3,121.1 71.9,121.8 73.6,122.2 75.3,122.4 76.9,122.3 78.6,121.9 80.3,121.3 81.9,120.5 83.6,121.3 85.2,122 86.9,122.4 88.6,122.6 90.2,122.5 91.9,122 93.6,121.4 95.2,120.6 96.9,121.4 98.6,122.1 100.2,122.5 101.9,122.7 103.6,122.5 105.2,122.1 106.9,121.4 108.6,120.6 110.2,121.4 111.9,122 113.5,122.5 115.2,122.6 116.9,122.4 118.5,122 120.2,121.3 121.9,120.5 123.5,121.3 125.2,121.9 126.9,122.3 128.5,122.5 130.2,122.3 131.9,121.8 133.5,121.2 135.2,120.4 136.9,121.1 138.5,121.8 140.2,122.2 141.8,122.3 143.5,122.1 145.2,121.7 146.8,121 148.5,120.2 150.2,121 151.8,121.6 153.5,122 155.2,122.1 156.8,121.9 158.5,121.5 160.2,120.8 161.8,119.9 163.5,120.7 165.2,121.3 166.8,121.6 168.5,121.7 170.2,121.5 171.8,121 173.5,120.2 175.1,119.3 176.8,120 178.5,120.5 180.1,120.9 181.8,120.9 183.5,120.6 185.1,120 186.8,119.1 188.5,118.2 190.1,118.7 191.8,119.2 193.5,119.4 195.1,119.3 196.8,118.9 198.5,118.2 200.1,117.3 201.8,116.2 203.4,116.7 205.1,117 206.8,117.1 208.4,116.9 210.1,116.4 211.8,115.6 213.4,114.6 215.1,113.4 216.8,113.8 218.4,114.1 220.1,114.1 221.8,113.8 223.4,113.2 225.1,112.4 226.8,111.3 228.4,110 230.1,110.4 231.8,110.6 233.4,110.6 235.1,110.2 236.7,109.6 238.4,108.7 240.1,107.6 241.7,106.3 243.4,106.6 245.1,106.8 246.7,106.8 248.4,106.4 250.4,106.4 250.4,2.5"/>
<polygon fill="#007bfe" points="33.3,2.5 33.3,115.6 35.3,115.6 37,115.5 38.6,115.1 40.3,114.5 42,113.8 43.6,114.6 45.3,115.4 47,115.9 48.6,116.1 50.3,116 51.9,115.6 53.6,114.9 55.3,114.2 56.9,115 58.6,115.8 60.3,116.3 61.9,116.5 63.6,116.3 65.3,115.9 66.9,115.3 68.6,114.6 70.3,115.4 71.9,116.1 73.6,116.6 75.3,116.8 76.9,116.6 78.6,116.2 80.3,115.6 81.9,114.8 83.6,115.6 85.2,116.3 86.9,116.8 88.6,116.9 90.2,116.8 91.9,116.3 93.6,115.7 95.2,114.9 96.9,115.7 98.6,116.3 100.2,116.8 101.9,116.9 103.6,116.8 105.2,116.3 106.9,115.6 108.6,114.8 110.2,115.6 111.9,116.2 113.5,116.7 115.2,116.8 116.9,116.6 118.5,116.1 120.2,115.4 121.9,114.6 123.5,115.4 125.2,116 126.9,116.4 128.5,116.6 130.2,116.4 131.9,115.9 133.5,115.2 135.2,114.4 136.9,115.1 138.5,115.8 140.2,116.2 141.8,116.3 143.5,116.1 145.2,115.7 146.8,115 148.5,114.1 150.2,114.9 151.8,115.5 153.5,115.9 155.2,116 156.8,115.8 158.5,115.3 160.2,114.6 161.8,113.8 163.5,114.5 165.2,115.1 166.8,115.5 168.5,115.5 170.2,115.3 171.8,114.7 173.5,114 175.1,113 176.8,113.7 178.5,114.2 180.1,114.5 181.8,114.5 183.5,114.2 185.1,113.6 186.8,112.7 188.5,111.7 190.1,112.3 191.8,112.7 193.5,112.9 195.1,112.8 196.8,112.4 198.5,111.7 200.1,110.7 201.8,109.6 203.4,110 205.1,110.4 206.8,110.5 208.4,110.2 210.1,109.7 211.8,108.9 213.4,107.8 215.1,106.6 216.8,107 218.4,107.2 220.1,107.2 221.8,106.9 223.4,106.3 225.1,105.4 226.8,104.3 228.4,103 230.1,103.3 231.8,103.5 233.4,103.4 235.1,103.1 236.7,102.5 238.4,101.5 240.1,100.3 241.7,99 243.4,99.3 245.1,99.5 246.7,99.4 248.4,99.1 250.4,99.1 250.4,2.5"/>
<polygon fill="#0063ff" points="33.3,2.5 33.3,107.8 35.3,107.8 37,107.8 38.6,107.4 40.3,106.8 42,106.1 43.6,107 45.3,107.7 47,108.2 48.6,108.5 50.3,108.4 51.9,108 53.6,107.4 55.3,106.7 56.9,107.6 58.6,108.3 60.3,108.8 61.9,109.1 63.6,109 65.3,108.6 66.9,107.9 68.6,107.2 70.3,108.1 71.9,108.8 73.6,109.3 75.3,109.5 76.9,109.4 78.6,109 80.3,108.3 81.9,107.5 83.6,108.4 85.2,109.1 86.9,109.6 88.6,109.7 90.2,109.6 91.9,109.1 93.6,108.5 95.2,107.7 96.9,108.5 98.6,109.1 100.2,109.6 101.9,109.7 103.6,109.6 105.2,109.1 106.9,108.4 108.6,107.6 110.2,108.3 111.9,109 113.5,109.4 115.2,109.5 116.9,109.3 118.5,108.8 120.2,108.1 121.9,107.3 123.5,108 125.2,108.7 126.9,109.1 128.5,109.2 130.2,109 131.9,108.5 133.5,107.8 135.2,106.9 136.9,107.7 138.5,108.3 140.2,108.7 141.8,108.8 143.5,108.6 145.2,108.1 146.8,107.4 148.5,106.6 150.2,107.3 151.8,107.9 153.5,108.3 155.2,108.4 156.8,108.2 158.5,107.7 160.2,107 161.8,106.1 163.5,106.8 165.2,107.4 166.8,107.8 168.5,107.8 170.2,107.6 171.8,107 173.5,106.2 175.1,105.2 176.8,105.9 178.5,106.4 180.1,106.7 181.8,106.7 183.5,106.4 185.1,105.7 186.8,104.8 188.5,103.8 190.1,104.4 191.8,104.8 193.5,105 195.1,104.9 196.8,104.4 198.5,103.6 200.1,102.6 201.8,101.5 203.4,101.9 205.1,102.2 206.8,102.3 208.4,102.1 210.1,101.5 211.8,100.6 213.4,99.5 215.1,98.3 216.8,98.6 218.4,98.9 220.1,98.8 221.8,98.5 223.4,97.9 225.1,96.9 226.8,95.8 228.4,94.4 230.1,94.7 231.8,94.9 233.4,94.8 235.1,94.5 236.7,93.8 238.4,92.8 240.1,91.6 241.7,90.2 243.4,90.5 245.1,90.6 246.7,90.6 248.4,90.2 250.4,90.2 250.4,2.5"/>
<polygon fill="#004bff" points="33.3,2.5 33.3,99.4 35.3,99.4 37,99.3 38.6,98.9 40.3,98.3 42,97.6 43.6,98.5 45.3,99.3 47,99.8 48.6,100.1 50.3,100 51.9,99.6 53.6,99 55.3,98.3 56.9,99.2 58.6,100 60.3,100.5 61.9,100.8 63.6,100.7 65.3,100.3 66.9,99.7 68.6,98.9 70.3,99.8 71.9,100.6 73.6,101.1 75.3,101.3 76.9,101.2 78.6,100.8 80.3,100.1 81.9,99.4 83.6,100.2 85.2,101 86.9,101.5 88.6,101.7 90.2,101.5 91.9,101.1 93.6,100.4 95.2,99.6 96.9,100.4 98.6,101.1 100.2,101.6 101.9,101.8 103.6,101.6 105.2,101.1 106.9,100.4 108.6,99.6 110.2,100.4 111.9,101.1 113.5,101.5 115.2,101.6 116.9,101.4 118.5,100.9 120.2,100.2 121.9,99.4 123.5,100.1 125.2,100.8 126.9,101.2 128.5,101.3 130.2,101.1 131.9,100.6 133.5,99.8 135.2,99 136.9,99.7 138.5,100.4 140.2,100.8 141.8,100.9 143.5,100.6 145.2,100.1 146.8,99.3 148.5,98.4 150.2,99.2 151.8,99.8 153.5,100.2 155.2,100.2 156.8,100 158.5,99.4 160.2,98.6 161.8,97.7 163.5,98.4 165.2,98.9 166.8,99.3 168.5,99.3 170.2,99 171.8,98.3 173.5,97.5 175.1,96.5 176.8,97.1 178.5,97.6 180.1,97.8 181.8,97.7 183.5,97.3 185.1,96.6 186.8,95.6 188.5,94.5 190.1,95 191.8,95.4 193.5,95.6 195.1,95.4 196.8,94.8 198.5,94 200.1,92.9 201.8,91.7 203.4,92.1 205.1,92.3 206.8,92.3 208.4,92 210.1,91.4 211.8,90.5 213.4,89.3 215.1,87.9 216.8,88.2 218.4,88.4 220.1,88.3 221.8,87.9 223.4,87.2 225.1,86.2 226.8,84.9 228.4,83.5 230.1,83.8 231.8,83.9 233.4,83.7 235.1,83.3 236.7,82.5 238.4,81.5 240.1,80.2 241.7,78.7 243.4,78.9 245.1,79 246.7,78.8 248.4,78.4 250.4,78.4 250.4,2.5"/>
<polygon fill="#002fff" points="33.3,2.5 33.3,89.9 35.3,89.9 37,89.9 38.6,89.6 40.3,89 42,88.3 43.6,89.3 45.3,90.2 47,90.8 48.6,91.1 50.3,91.1 51.9,90.8 53.6,90.2 55.3,89.5 56.9,90.5 58.6,91.3 60.3,91.9 61.9,92.2 63.6,92.2 65.3,91.8 66.9,91.2 68.6,90.5 70.3,91.4 71.9,92.2 73.6,92.8 75.3,93 76.9,92.9 78.6,92.5 80.3,91.9 81.9,91.1 83.6,92 85.2,92.7 86.9,93.2 88.6,93.4 90.2,93.2 91.9,92.7 93.6,92 95.2,91.2 96.9,91.9 98.6,92.6 100.2,93 101.9,93.1 103.6,92.9 105.2,92.4 106.9,91.6 108.6,90.7 110.2,91.4 111.9,92.1 113.5,92.4 115.2,92.5 116.9,92.2 118.5,91.7 120.2,90.9 121.9,89.9 123.5,90.7 125.2,91.3 126.9,91.6 128.5,91.7 130.2,91.4 131.9,90.8 133.5,90 135.2,89.1 136.9,89.8 138.5,90.4 140.2,90.8 141.8,90.9 143.5,90.6 145.2,90.1 146.8,89.3 148.5,88.4 150.2,89.1 151.8,89.7 153.5,90.1 155.2,90.2 156.8,89.9 158.5,89.3 160.2,88.5 161.8,87.6 163.5,88.3 165.2,88.8 166.8,89.2 168.5,89.2 170.2,88.9 171.8,88.2 173.5,87.3 175.1,86.3 176.8,86.9 178.5,87.3 180.1,87.5 181.8,87.4 183.5,87 185.1,86.2 186.8,85.1 188.5,83.9 190.1,84.4 191.8,84.7 193.5,84.7 195.1,84.4 196.8,83.7 198.5,82.7 200.1,81.5 201.8,80.1 203.4,80.3 205.1,80.4 206.8,80.2 208.4,79.7 210.1,78.9 211.8,77.7 213.4,76.3 215.1,74.7 216.8,74.7 218.4,74.7 220.1,74.3 221.8,73.7 223.4,72.7 225.1,71.4 226.8,69.9 228.4,68.2 230.1,68.1 231.8,67.9 233.4,67.5 235.1,66.8 236.7,65.7 238.4,64.3 240.1,62.7 241.7,61 243.4,60.9 245.1,60.6 246.7,60.2 248.4,59.4 250.4,59.4 250.4,2.5"/>
<polygon fill="#0010ff" points="33.3,2.5 33.3,75.4 35.3,75.4 37,75.4 38.6,75.2 40.3,74.7 42,74.1 43.6,75.2 45.3,76.1 47,76.8 48.6,77.2 50.3,77.3 51.9,77 53.6,76.5 55.3,75.9 56.9,76.9 58.6,77.8 60.3,78.5 61.9,78.9 63.6,78.9 65.3,78.6 66.9,78 68.6,77.4 70.3,78.4 71.9,79.2 73.6,79.9 75.3,80.2 76.9,80.1 78.6,79.8 80.3,79.1 81.9,78.4 83.6,79.3 85.2,80.1 86.9,80.7 88.6,80.9 90.2,80.8 91.9,80.3 93.6,79.6 95.2,78.8 96.9,79.6 98.6,80.3 100.2,80.8 101.9,80.9 103.6,80.7 105.2,80.2 106.9,79.4 108.6,78.5 110.2,79.3 111.9,79.9 113.5,80.3 115.2,80.4 116.9,80.1 118.5,79.6 120.2,78.7 121.9,77.8 123.5,78.5 125.2,79.1 126.9,79.5 128.5,79.5 130.2,79.2 131.9,78.6 133.5,77.7 135.2,76.8 136.9,77.5 138.5,78 140.2,78.4 141.8,78.4 143.5,78.1 145.2,77.4 146.8,76.6 148.5,75.6 150.2,76.3 151.8,76.8 153.5,77.1 155.2,77.1 156.8,76.7 158.5,76 160.2,75.1 161.8,74 163.5,74.6 165.2,75 166.8,75.2 168.5,75 170.2,74.5 171.8,73.6 173.5,72.5 175.1,71.2 176.8,71.6 178.5,71.8 180.1,71.8 181.8,71.4 183.5,70.6 185.1,69.5 186.8,68.1 188.5,66.5 190.1,66.6 191.8,66.5 193.5,66.2 195.1,65.4 196.8,64.3 198.5,62.8 200.1,61.1 201.8,59.2 203.4,58.9 205.1,58.4 206.8,57.7 208.4,56.6 210.1,55.2 211.8,53.4 213.4,51.4 215.1,49.1 216.8,48.6 218.4,47.9 220.1,46.9 221.8,45.5 223.4,43.9 225.1,41.9 226.8,39.6 228.4,37.2 230.1,36.4 231.8,35.5 233.4,34.4 235.1,32.9 236.7,31.1 238.4,28.9 240.1,26.6 241.7,24 243.4,23.2 245.1,22.2 246.7,21 248.4,19.5 250.4,19.5 250.4,2.5"/>
<polygon fill="#0001ff" points="171.5,24 171.6,29.1 170.7,33 168.9,36.3 166.2,38.9 162.7,40.7 158.5,44.6 153.4,46.5 147.5,48.6 140.8,50.5 133.2,52.4 124.3,52.5 112.3,54.4 100.2,55.9 91.4,57 83.5,55.7 76.7,56.5 70.4,54.3 65.1,54.5 60.3,52.3 56.2,49.6 53.1,48.1 50.8,45.7 49.1,42.3 48.2,37.6 48.1,32.2 49,28.5 50.7,25.3 53.4,22.3 56.8,19.5 61.1,16.9 66.2,14.6 72.1,12.5 78.8,10.6 86.4,9 95.2,7.6 107.2,6.1 119.4,5 128.2,4.6 136,4.6 142.9,5.1 149.1,5.9 154.6,7.1 159.3,8.7 163.3,10.7 166.5,13.1 168.9,15.9 170.5,19.3"/>
</g>
<rect x="35.3" y="7.5" width="213.1" height="160.4" fill="none" stroke="#181828" stroke-width="0.85"/>
<path d="M35.3 7.5V167.9H248.4" fill="none" stroke="#111" stroke-width="1"/>
<path d="M35.3 167.9h-3.2M35.3 141.2h-3.2M35.3 114.4h-3.2M35.3 87.7h-3.2M35.3 61h-3.2M35.3 34.2h-3.2M35.3 7.5h-3.2M35.3 167.9v3.2M61.9 167.9v3.2M88.6 167.9v3.2M115.2 167.9v3.2M141.8 167.9v3.2M168.5 167.9v3.2M195.1 167.9v3.2M221.8 167.9v3.2M248.4 167.9v3.2" stroke="#111" stroke-width="0.9" fill="none"/>
<g class="tk" text-anchor="end">
<text x="30.7" y="171.2">36</text>
<text x="30.7" y="144.6">40</text>
<text x="30.7" y="117.9">44</text>
<text x="30.7" y="91.2">48</text>
<text x="30.7" y="64.6">52</text>
<text x="30.7" y="38">56</text>
<text x="30.7" y="11.3">60</text>
</g>
<g class="tk" text-anchor="middle">
<text x="35.3" y="182">0</text>
<text x="61.9" y="182">4</text>
<text x="88.6" y="182">8</text>
<text x="115.2" y="182">12</text>
<text x="141.8" y="182">16</text>
<text x="168.5" y="182">20</text>
<text x="195.1" y="182">24</text>
<text x="221.8" y="182">28</text>
<text x="248.4" y="182">32</text>
</g>
<text class="ax" text-anchor="middle" x="141.8" y="198">Longitude (degrees)</text>
<text class="ax ay" text-anchor="middle" transform="translate(12.7 87.7) rotate(-90)">Latitude (degrees)</text>
<text class="pl" x="201.9" y="22.9" textLength="42.2" lengthAdjust="spacingAndGlyphs">(a) ART</text>
<clipPath id="clipb"><rect x="290.3" y="7.5" width="212.6" height="160.4"/></clipPath>
<g clip-path="url(#clipb)">
<rect x="290.3" y="7.5" width="212.6" height="160.4" fill="#ff0000"/>
<polygon fill="#ff3100" points="288.3,2.5 288.3,167.2 290.3,167.2 295.6,167.4 300.9,167.6 306.2,167.9 311.6,168.1 316.9,168.3 322.2,168.6 327.5,168.8 332.8,169 338.1,169.2 343.4,169.5 348.8,169.7 354.1,169.9 359.4,170.1 364.7,170.3 370,170.5 375.3,170.7 380.7,171 386,171.2 391.3,171.5 396.6,171.8 401.9,171.9 407.2,171.9 412.5,171.9 417.9,171.9 423.2,171.9 428.5,171.9 433.8,171.9 439.1,171.9 444.4,171.9 449.8,171.9 455.1,171.9 460.4,171.9 465.7,171.9 471,171.9 476.3,171.9 481.6,171.9 487,171.9 492.3,171.9 497.6,171.9 502.9,171.9 504.9,180.2 504.9,2.5"/>
<polygon fill="#ff4a00" points="288.3,2.5 288.3,165.5 290.3,165.5 295.6,165.7 300.9,165.9 306.2,166.1 311.6,166.3 316.9,166.5 322.2,166.7 327.5,166.9 332.8,167.1 338.1,167.3 343.4,167.5 348.8,167.7 354.1,167.9 359.4,168 364.7,168.2 370,168.4 375.3,168.6 380.7,168.8 386,169 391.3,169.2 396.6,169.5 401.9,169.8 407.2,170 412.5,170.4 417.9,170.7 423.2,171 428.5,171.4 433.8,171.8 439.1,171.9 444.4,171.9 449.8,171.9 455.1,171.9 460.4,171.9 465.7,171.9 471,171.9 476.3,171.9 481.6,171.9 487,171.9 492.3,171.9 497.6,171.9 502.9,171.9 504.9,177.4 504.9,2.5"/>
<polygon fill="#ff6300" points="288.3,2.5 288.3,164 290.3,164 295.6,164.2 300.9,164.3 306.2,164.5 311.6,164.7 316.9,164.8 322.2,165 327.5,165.2 332.8,165.3 338.1,165.4 343.4,165.6 348.8,165.7 354.1,165.8 359.4,165.9 364.7,166.1 370,166.2 375.3,166.3 380.7,166.5 386,166.6 391.3,166.8 396.6,167 401.9,167.3 407.2,167.5 412.5,167.8 417.9,168.2 423.2,168.5 428.5,168.8 433.8,169.2 439.1,169.6 444.4,170 449.8,170.4 455.1,170.8 460.4,171.2 465.7,171.6 471,171.9 476.3,171.9 481.6,171.9 487,171.9 492.3,171.9 497.6,171.9 502.9,171.9 504.9,174.7 504.9,2.5"/>
<polygon fill="#ff7c00" points="288.3,2.5 288.3,162.6 290.3,162.6 295.6,162.7 300.9,162.9 306.2,163 311.6,163.1 316.9,163.3 322.2,163.4 327.5,163.5 332.8,163.6 338.1,163.7 343.4,163.8 348.8,163.9 354.1,163.9 359.4,164 364.7,164.1 370,164.2 375.3,164.2 380.7,164.3 386,164.5 391.3,164.6 396.6,164.8 401.9,165 407.2,165.2 412.5,165.5 417.9,165.8 423.2,166.1 428.5,166.5 433.8,166.8 439.1,167.2 444.4,167.6 449.8,168 455.1,168.4 460.4,168.7 465.7,169.1 471,169.5 476.3,169.9 481.6,170.3 487,170.7 492.3,171.1 497.6,171.6 502.9,171.9 504.9,172 504.9,2.5"/>
<polygon fill="#ff9600" points="288.3,2.5 288.3,161.2 290.3,161.2 295.6,161.4 300.9,161.5 306.2,161.6 311.6,161.7 316.9,161.9 322.2,162 327.5,162.1 332.8,162.2 338.1,162.2 343.4,162.3 348.8,162.4 354.1,162.4 359.4,162.5 364.7,162.5 370,162.6 375.3,162.6 380.7,162.7 386,162.8 391.3,162.9 396.6,163.1 401.9,163.3 407.2,163.5 412.5,163.7 417.9,164 423.2,164.3 428.5,164.6 433.8,164.9 439.1,165.2 444.4,165.6 449.8,165.9 455.1,166.2 460.4,166.6 465.7,166.9 471,167.2 476.3,167.5 481.6,167.9 487,168.2 492.3,168.5 497.6,168.9 502.9,169.2 504.9,169.2 504.9,2.5"/>
<polygon fill="#ffaf00" points="288.3,2.5 288.3,159.8 290.3,159.8 295.6,159.9 300.9,160.1 306.2,160.2 311.6,160.3 316.9,160.4 322.2,160.5 327.5,160.6 332.8,160.7 338.1,160.8 343.4,160.9 348.8,161 354.1,161 359.4,161.1 364.7,161.1 370,161.1 375.3,161.2 380.7,161.3 386,161.4 391.3,161.5 396.6,161.6 401.9,161.8 407.2,161.9 412.5,162.1 417.9,162.4 423.2,162.6 428.5,162.9 433.8,163.1 439.1,163.4 444.4,163.7 449.8,164 455.1,164.2 460.4,164.5 465.7,164.8 471,165 476.3,165.3 481.6,165.6 487,165.8 492.3,166.1 497.6,166.3 502.9,166.6 504.9,166.6 504.9,2.5"/>
<polygon fill="#ffc800" points="288.3,2.5 288.3,158.2 290.3,158.2 295.6,158.3 300.9,158.4 306.2,158.6 311.6,158.7 316.9,158.8 322.2,158.9 327.5,159 332.8,159.1 338.1,159.2 343.4,159.3 348.8,159.4 354.1,159.5 359.4,159.5 364.7,159.6 370,159.7 375.3,159.7 380.7,159.8 386,159.9 391.3,160 396.6,160.1 401.9,160.3 407.2,160.4 412.5,160.6 417.9,160.8 423.2,161 428.5,161.3 433.8,161.5 439.1,161.7 444.4,161.9 449.8,162.2 455.1,162.4 460.4,162.6 465.7,162.8 471,163 476.3,163.2 481.6,163.5 487,163.7 492.3,163.9 497.6,164.1 502.9,164.3 504.9,164.3 504.9,2.5"/>
<polygon fill="#ffe100" points="288.3,2.5 288.3,156.5 290.3,156.5 295.6,156.6 300.9,156.8 306.2,156.9 311.6,157 316.9,157.1 322.2,157.3 327.5,157.4 332.8,157.5 338.1,157.6 343.4,157.7 348.8,157.8 354.1,157.9 359.4,158 364.7,158.1 370,158.2 375.3,158.3 380.7,158.3 386,158.5 391.3,158.6 396.6,158.7 401.9,158.8 407.2,159 412.5,159.1 417.9,159.3 423.2,159.5 428.5,159.6 433.8,159.8 439.1,160 444.4,160.2 449.8,160.4 455.1,160.6 460.4,160.8 465.7,160.9 471,161.1 476.3,161.3 481.6,161.5 487,161.6 492.3,161.8 497.6,162 502.9,162.2 504.9,162.2 504.9,2.5"/>
<polygon fill="#fffa00" points="288.3,2.5 288.3,155 290.3,155 295.6,155.1 300.9,155.3 306.2,155.4 311.6,155.5 316.9,155.7 322.2,155.8 327.5,155.9 332.8,156 338.1,156.2 343.4,156.3 348.8,156.4 354.1,156.5 359.4,156.6 364.7,156.7 370,156.8 375.3,156.9 380.7,157 386,157.2 391.3,157.3 396.6,157.4 401.9,157.5 407.2,157.6 412.5,157.8 417.9,157.9 423.2,158 428.5,158.2 433.8,158.3 439.1,158.5 444.4,158.6 449.8,158.8 455.1,158.9 460.4,159.1 465.7,159.3 471,159.4 476.3,159.6 481.6,159.8 487,160 492.3,160.1 497.6,160.3 502.9,160.5 504.9,160.5 504.9,2.5"/>
<polygon fill="#cefa11" points="288.3,2.5 288.3,153.1 290.3,153.1 295.6,153.2 300.9,153.4 306.2,153.5 311.6,153.6 316.9,153.8 322.2,153.9 327.5,154 332.8,154.1 338.1,154.3 343.4,154.4 348.8,154.5 354.1,154.7 359.4,154.8 364.7,154.9 370,155 375.3,155.1 380.7,155.3 386,155.4 391.3,155.5 396.6,155.6 401.9,155.7 407.2,155.8 412.5,155.9 417.9,156 423.2,156.1 428.5,156.2 433.8,156.3 439.1,156.4 444.4,156.6 449.8,156.7 455.1,156.8 460.4,157 465.7,157.1 471,157.3 476.3,157.5 481.6,157.6 487,157.8 492.3,158 497.6,158.2 502.9,158.4 504.9,158.4 504.9,2.5"/>
<polygon fill="#9bf922" points="288.3,2.5 288.3,149.4 290.3,149.4 295.6,149.5 300.9,149.5 306.2,149.6 311.6,149.6 316.9,149.7 322.2,149.8 327.5,149.8 332.8,149.9 338.1,149.9 343.4,150 348.8,150.1 354.1,150.1 359.4,150.2 364.7,150.3 370,150.3 375.3,150.4 380.7,150.5 386,150.5 391.3,150.6 396.6,150.7 401.9,150.8 407.2,150.9 412.5,151 417.9,151.1 423.2,151.2 428.5,151.3 433.8,151.4 439.1,151.5 444.4,151.7 449.8,151.8 455.1,151.9 460.4,152.1 465.7,152.2 471,152.4 476.3,152.5 481.6,152.7 487,152.9 492.3,153 497.6,153.2 502.9,153.4 504.9,153.4 504.9,2.5"/>
<polygon fill="#68f834" points="288.3,2.5 288.3,147.9 290.3,147.9 295.6,148 300.9,148 306.2,148 311.6,148.1 316.9,148.1 322.2,148.2 327.5,148.2 332.8,148.2 338.1,148.3 343.4,148.3 348.8,148.4 354.1,148.4 359.4,148.4 364.7,148.5 370,148.5 375.3,148.6 380.7,148.6 386,148.7 391.3,148.7 396.6,148.8 401.9,148.8 407.2,148.9 412.5,149 417.9,149.1 423.2,149.2 428.5,149.3 433.8,149.4 439.1,149.5 444.4,149.6 449.8,149.7 455.1,149.9 460.4,150 465.7,150.1 471,150.3 476.3,150.4 481.6,150.6 487,150.7 492.3,150.9 497.6,151.1 502.9,151.2 504.9,151.2 504.9,2.5"/>
<polygon fill="#35f746" points="288.3,2.5 288.3,146.9 290.3,146.9 295.6,146.9 300.9,147 306.2,147 311.6,147 316.9,147.1 322.2,147.1 327.5,147.1 332.8,147.1 338.1,147.2 343.4,147.2 348.8,147.2 354.1,147.2 359.4,147.3 364.7,147.3 370,147.3 375.3,147.3 380.7,147.4 386,147.4 391.3,147.5 396.6,147.5 401.9,147.5 407.2,147.6 412.5,147.7 417.9,147.7 423.2,147.8 428.5,147.9 433.8,148 439.1,148.1 444.4,148.2 449.8,148.3 455.1,148.4 460.4,148.5 465.7,148.7 471,148.8 476.3,148.9 481.6,149.1 487,149.2 492.3,149.4 497.6,149.5 502.9,149.7 504.9,149.7 504.9,2.5"/>
<polygon fill="#02f657" points="288.3,2.5 288.3,146.1 290.3,146.1 295.6,146.1 300.9,146.1 306.2,146.2 311.6,146.2 316.9,146.2 322.2,146.2 327.5,146.2 332.8,146.3 338.1,146.3 343.4,146.3 348.8,146.3 354.1,146.3 359.4,146.3 364.7,146.3 370,146.4 375.3,146.4 380.7,146.4 386,146.4 391.3,146.5 396.6,146.5 401.9,146.5 407.2,146.6 412.5,146.6 417.9,146.7 423.2,146.7 428.5,146.8 433.8,146.9 439.1,147 444.4,147.1 449.8,147.2 455.1,147.3 460.4,147.4 465.7,147.5 471,147.6 476.3,147.7 481.6,147.8 487,148 492.3,148.1 497.6,148.2 502.9,148.4 504.9,148.4 504.9,2.5"/>
<polygon fill="#00f578" points="288.3,2.5 288.3,145.1 290.3,145.1 295.6,145.1 300.9,145.1 306.2,145.1 311.6,145.1 316.9,145.2 322.2,145.2 327.5,145.2 332.8,145.2 338.1,145.2 343.4,145.2 348.8,145.2 354.1,145.2 359.4,145.2 364.7,145.2 370,145.2 375.3,145.2 380.7,145.2 386,145.3 391.3,145.3 396.6,145.3 401.9,145.3 407.2,145.4 412.5,145.4 417.9,145.4 423.2,145.5 428.5,145.5 433.8,145.6 439.1,145.7 444.4,145.7 449.8,145.8 455.1,145.9 460.4,145.9 465.7,146 471,146.1 476.3,146.2 481.6,146.3 487,146.4 492.3,146.5 497.6,146.6 502.9,146.7 504.9,146.7 504.9,2.5"/>
<polygon fill="#00f499" points="288.3,2.5 288.3,142.3 290.3,142.3 295.6,142.3 300.9,142.3 306.2,142.3 311.6,142.3 316.9,142.3 322.2,142.4 327.5,142.4 332.8,142.4 338.1,142.4 343.4,142.4 348.8,142.4 354.1,142.4 359.4,142.4 364.7,142.4 370,142.5 375.3,142.5 380.7,142.5 386,142.5 391.3,142.5 396.6,142.5 401.9,142.5 407.2,142.5 412.5,142.5 417.9,142.5 423.2,142.5 428.5,142.5 433.8,142.5 439.1,142.5 444.4,142.5 449.8,142.5 455.1,142.5 460.4,142.5 465.7,142.5 471,142.5 476.3,142.5 481.6,142.5 487,142.5 492.3,142.5 497.6,142.5 502.9,142.5 504.9,142.5 504.9,2.5"/>
<polygon fill="#00f4ba" points="288.3,2.5 288.3,139.8 290.3,139.8 295.6,139.8 300.9,139.8 306.2,139.8 311.6,139.8 316.9,139.8 322.2,139.9 327.5,139.9 332.8,139.9 338.1,139.9 343.4,139.9 348.8,139.9 354.1,139.9 359.4,139.9 364.7,139.9 370,139.9 375.3,139.9 380.7,139.9 386,139.9 391.3,139.9 396.6,139.9 401.9,139.9 407.2,139.8 412.5,139.8 417.9,139.8 423.2,139.8 428.5,139.7 433.8,139.7 439.1,139.7 444.4,139.6 449.8,139.6 455.1,139.5 460.4,139.5 465.7,139.4 471,139.4 476.3,139.3 481.6,139.3 487,139.2 492.3,139.2 497.6,139.1 502.9,139.1 504.9,139.1 504.9,2.5"/>
<polygon fill="#00f3db" points="288.3,2.5 288.3,137.2 290.3,137.2 295.6,137.2 300.9,137.2 306.2,137.2 311.6,137.3 316.9,137.3 322.2,137.3 327.5,137.3 332.8,137.3 338.1,137.3 343.4,137.3 348.8,137.3 354.1,137.3 359.4,137.3 364.7,137.3 370,137.3 375.3,137.3 380.7,137.3 386,137.2 391.3,137.2 396.6,137.2 401.9,137.2 407.2,137.1 412.5,137.1 417.9,137.1 423.2,137 428.5,137 433.8,136.9 439.1,136.8 444.4,136.8 449.8,136.7 455.1,136.6 460.4,136.5 465.7,136.4 471,136.4 476.3,136.3 481.6,136.1 487,136 492.3,135.9 497.6,135.8 502.9,135.7 504.9,135.7 504.9,2.5"/>
<polygon fill="#00f2fc" points="288.3,2.5 288.3,134 290.3,134 295.6,134 300.9,134 306.2,134 311.6,134.1 316.9,134.1 322.2,134.1 327.5,134.2 332.8,134.2 338.1,134.2 343.4,134.2 348.8,134.2 354.1,134.3 359.4,134.3 364.7,134.3 370,134.3 375.3,134.3 380.7,134.3 386,134.3 391.3,134.3 396.6,134.3 401.9,134.2 407.2,134.2 412.5,134.2 417.9,134.1 423.2,134.1 428.5,134 433.8,133.9 439.1,133.8 444.4,133.7 449.8,133.6 455.1,133.5 460.4,133.4 465.7,133.3 471,133.1 476.3,133 481.6,132.8 487,132.7 492.3,132.5 497.6,132.4 502.9,132.2 504.9,132.2 504.9,2.5"/>
<polygon fill="#00dbfd" points="288.3,2.5 288.3,130.5 290.3,130.5 295.6,130.6 300.9,130.6 306.2,130.7 311.6,130.7 316.9,130.8 322.2,130.8 327.5,130.9 332.8,130.9 338.1,131 343.4,131 348.8,131 354.1,131.1 359.4,131.1 364.7,131.2 370,131.2 375.3,131.2 380.7,131.2 386,131.2 391.3,131.2 396.6,131.2 401.9,131.2 407.2,131.1 412.5,131.1 417.9,131 423.2,130.9 428.5,130.8 433.8,130.7 439.1,130.6 444.4,130.5 449.8,130.3 455.1,130.1 460.4,129.9 465.7,129.7 471,129.5 476.3,129.3 481.6,129 487,128.8 492.3,128.5 497.6,128.3 502.9,128 504.9,128 504.9,2.5"/>
<polygon fill="#00c3fe" points="288.3,2.5 288.3,127.4 290.3,127.4 295.6,127.5 300.9,127.6 306.2,127.7 311.6,127.7 316.9,127.8 322.2,127.9 327.5,128 332.8,128 338.1,128.1 343.4,128.2 348.8,128.2 354.1,128.3 359.4,128.3 364.7,128.3 370,128.3 375.3,128.3 380.7,128.3 386,128.3 391.3,128.3 396.6,128.3 401.9,128.3 407.2,128.2 412.5,128.1 417.9,128.1 423.2,128 428.5,127.8 433.8,127.6 439.1,127.4 444.4,127.2 449.8,126.8 455.1,126.5 460.4,126.1 465.7,125.6 471,125.1 476.3,124.6 481.6,124.1 487,123.5 492.3,122.9 497.6,122.3 502.9,121.7 504.9,121.7 504.9,2.5"/>
<polygon fill="#00abfe" points="288.3,2.5 288.3,124.3 290.3,124.3 295.6,124.4 300.9,124.6 306.2,124.7 311.6,124.8 316.9,124.9 322.2,125 327.5,125.1 332.8,125.2 338.1,125.3 343.4,125.4 348.8,125.4 354.1,125.4 359.4,125.4 364.7,125.4 370,125.4 375.3,125.4 380.7,125.4 386,125.4 391.3,125.3 396.6,125.3 401.9,125.3 407.2,125.2 412.5,125.1 417.9,125 423.2,124.9 428.5,124.7 433.8,124.4 439.1,124.1 444.4,123.6 449.8,123.1 455.1,122.5 460.4,121.7 465.7,120.9 471,120.1 476.3,119.1 481.6,118.1 487,117 492.3,116 497.6,114.8 502.9,113.7 504.9,113.7 504.9,2.5"/>
<polygon fill="#0093fe" points="288.3,2.5 288.3,120.5 290.3,120.5 295.6,120.7 300.9,120.8 306.2,121 311.6,121.2 316.9,121.3 322.2,121.4 327.5,121.6 332.8,121.7 338.1,121.7 343.4,121.8 348.8,121.8 354.1,121.8 359.4,121.8 364.7,121.8 370,121.8 375.3,121.7 380.7,121.7 386,121.6 391.3,121.6 396.6,121.5 401.9,121.4 407.2,121.4 412.5,121.3 417.9,121.1 423.2,120.9 428.5,120.7 433.8,120.3 439.1,119.8 444.4,119.3 449.8,118.6 455.1,117.7 460.4,116.7 465.7,115.6 471,114.4 476.3,113.1 481.6,111.7 487,110.3 492.3,108.8 497.6,107.3 502.9,105.8 504.9,105.8 504.9,2.5"/>
<polygon fill="#007bfe" points="288.3,2.5 288.3,114.8 290.3,114.8 295.6,115 300.9,115.2 306.2,115.3 311.6,115.5 316.9,115.6 322.2,115.8 327.5,115.9 332.8,116 338.1,116.1 343.4,116.1 348.8,116.1 354.1,116.1 359.4,116.1 364.7,116 370,116 375.3,115.9 380.7,115.8 386,115.7 391.3,115.6 396.6,115.5 401.9,115.4 407.2,115.3 412.5,115.2 417.9,115 423.2,114.7 428.5,114.4 433.8,114 439.1,113.5 444.4,112.8 449.8,112.1 455.1,111.1 460.4,110.1 465.7,108.9 471,107.6 476.3,106.2 481.6,104.7 487,103.2 492.3,101.6 497.6,100 502.9,98.4 504.9,98.4 504.9,2.5"/>
<polygon fill="#0063ff" points="288.3,2.5 288.3,107 290.3,107 295.6,107.3 300.9,107.5 306.2,107.8 311.6,108 316.9,108.2 322.2,108.4 327.5,108.6 332.8,108.7 338.1,108.8 343.4,108.9 348.8,108.9 354.1,108.9 359.4,108.9 364.7,108.8 370,108.7 375.3,108.6 380.7,108.4 386,108.3 391.3,108.2 396.6,108 401.9,107.9 407.2,107.7 412.5,107.5 417.9,107.3 423.2,107 428.5,106.6 433.8,106.2 439.1,105.6 444.4,104.9 449.8,104.1 455.1,103.1 460.4,101.9 465.7,100.7 471,99.3 476.3,97.8 481.6,96.2 487,94.6 492.3,92.9 497.6,91.2 502.9,89.5 504.9,89.5 504.9,2.5"/>
<polygon fill="#004bff" points="288.3,2.5 288.3,98.5 290.3,98.5 295.6,98.8 300.9,99.1 306.2,99.4 311.6,99.7 316.9,99.9 322.2,100.1 327.5,100.4 332.8,100.5 338.1,100.7 343.4,100.8 348.8,100.9 354.1,100.9 359.4,100.9 364.7,100.9 370,100.8 375.3,100.7 380.7,100.5 386,100.4 391.3,100.2 396.6,100 401.9,99.8 407.2,99.5 412.5,99.2 417.9,98.9 423.2,98.4 428.5,97.9 433.8,97.3 439.1,96.5 444.4,95.6 449.8,94.6 455.1,93.4 460.4,92 465.7,90.5 471,88.9 476.3,87.2 481.6,85.4 487,83.6 492.3,81.6 497.6,79.7 502.9,77.7 504.9,77.7 504.9,2.5"/>
<polygon fill="#002fff" points="288.3,2.5 288.3,89 290.3,89 295.6,89.5 300.9,90 306.2,90.5 311.6,91 316.9,91.4 322.2,91.7 327.5,92 332.8,92.3 338.1,92.4 343.4,92.5 348.8,92.5 354.1,92.4 359.4,92.2 364.7,91.9 370,91.7 375.3,91.3 380.7,91 386,90.7 391.3,90.3 396.6,90 401.9,89.7 407.2,89.5 412.5,89.2 417.9,88.8 423.2,88.3 428.5,87.8 433.8,87.1 439.1,86.1 444.4,85 449.8,83.6 455.1,82 460.4,80.1 465.7,77.9 471,75.6 476.3,73 481.6,70.4 487,67.6 492.3,64.7 497.6,61.8 502.9,58.8 504.9,58.8 504.9,2.5"/>
<polygon fill="#0010ff" points="288.3,2.5 288.3,75.5 290.3,75.5 295.6,76.2 300.9,76.8 306.2,77.5 311.6,78.1 316.9,78.6 322.2,79.2 327.5,79.6 332.8,80 338.1,80.3 343.4,80.5 348.8,80.6 354.1,80.6 359.4,80.5 364.7,80.3 370,79.9 375.3,79.5 380.7,78.9 386,78.2 391.3,77.5 396.6,76.6 401.9,75.5 407.2,74.4 412.5,73.1 417.9,71.7 423.2,70.1 428.5,68.4 433.8,66.5 439.1,64.4 444.4,62.1 449.8,59.7 455.1,57.1 460.4,54.3 465.7,51.3 471,48.3 476.3,45 481.6,41.7 487,38.3 492.3,34.9 497.6,31.4 502.9,27.9 504.9,27.9 504.9,2.5"/>
<polygon fill="#0001ff" points="424.7,25.6 424.7,30.2 423.8,33.7 422.1,36.8 419.5,39.6 416,42.3 411.8,44.7 406.8,47 401,49 394.4,50.8 386.9,52.4 378.3,53.8 366.4,55.2 354.5,56.3 345.8,56.7 338.2,56.7 331.3,56.3 325.2,55.5 319.9,54.4 315.2,52.9 311.3,51 308.2,48.7 305.8,46.1 304.2,42.9 303.3,38.4 303.3,33.8 304.2,30.3 305.9,27.2 308.5,24.4 312,21.7 316.2,19.3 321.2,17 327,15 333.6,13.2 341.1,11.6 349.7,10.2 361.6,8.8 373.5,7.7 382.2,7.3 389.8,7.3 396.7,7.7 402.8,8.5 408.1,9.6 412.8,11.1 416.7,13 419.8,15.3 422.2,17.9 423.8,21.1"/>
</g>
<rect x="290.3" y="7.5" width="212.6" height="160.4" fill="none" stroke="#181828" stroke-width="0.85"/>
<path d="M290.3 7.5V167.9H502.9" fill="none" stroke="#111" stroke-width="1"/>
<path d="M290.3 167.9h-3.2M290.3 141.2h-3.2M290.3 114.4h-3.2M290.3 87.7h-3.2M290.3 61h-3.2M290.3 34.2h-3.2M290.3 7.5h-3.2M290.3 167.9v3.2M316.9 167.9v3.2M343.4 167.9v3.2M370 167.9v3.2M396.6 167.9v3.2M423.2 167.9v3.2M449.8 167.9v3.2M476.3 167.9v3.2M502.9 167.9v3.2" stroke="#111" stroke-width="0.9" fill="none"/>
<g class="tk" text-anchor="end">
<text x="285.7" y="171.2">36</text>
<text x="285.7" y="144.6">40</text>
<text x="285.7" y="117.9">44</text>
<text x="285.7" y="91.2">48</text>
<text x="285.7" y="64.6">52</text>
<text x="285.7" y="38">56</text>
<text x="285.7" y="11.3">60</text>
</g>
<g class="tk" text-anchor="middle">
<text x="290.3" y="182">0</text>
<text x="316.9" y="182">4</text>
<text x="343.4" y="182">8</text>
<text x="370" y="182">12</text>
<text x="396.6" y="182">16</text>
<text x="423.2" y="182">20</text>
<text x="449.8" y="182">24</text>
<text x="476.3" y="182">28</text>
<text x="502.9" y="182">32</text>
</g>
<text class="ax" text-anchor="middle" x="396.6" y="198">Longitude (degrees)</text>
<text class="ax ay" text-anchor="middle" transform="translate(267.7 87.7) rotate(-90)">Latitude (degrees)</text>
<text class="pl" x="437.5" y="22.9" textLength="59.9" lengthAdjust="spacingAndGlyphs">(b) ARTHC</text>
<clipPath id="clipc"><rect x="35.3" y="209.4" width="213.1" height="160.4"/></clipPath>
<g clip-path="url(#clipc)">
<rect x="35.3" y="209.4" width="213.1" height="160.4" fill="#ff0000"/>
<polygon fill="#ff1800" points="33.3,204.4 33.3,368.9 35.3,368.9 40.6,369.2 46,369.4 51.3,369.6 56.6,369.8 61.9,370 67.3,370.2 72.6,370.4 77.9,370.6 83.2,370.8 88.6,370.9 93.9,371.1 99.2,371.3 104.6,371.4 109.9,371.6 115.2,371.8 120.5,372 125.9,372.2 131.2,372.4 136.5,372.7 141.8,372.9 147.2,373.3 152.5,373.6 157.8,373.9 163.2,373.9 168.5,373.9 173.8,373.9 179.1,373.9 184.5,373.9 189.8,373.9 195.1,373.9 200.5,373.9 205.8,373.9 211.1,373.9 216.4,373.9 221.8,373.9 227.1,373.9 232.4,373.9 237.7,373.9 243.1,373.9 248.4,373.9 250.4,383.4 250.4,204.4"/>
<polygon fill="#ff3100" points="33.3,204.4 33.3,367.7 35.3,367.7 40.6,367.9 46,368 51.3,368.2 56.6,368.4 61.9,368.6 67.3,368.8 72.6,368.9 77.9,369.1 83.2,369.2 88.6,369.4 93.9,369.5 99.2,369.7 104.6,369.8 109.9,369.9 115.2,370.1 120.5,370.2 125.9,370.4 131.2,370.6 136.5,370.9 141.8,371.1 147.2,371.4 152.5,371.8 157.8,372.2 163.2,372.6 168.5,373 173.8,373.4 179.1,373.9 184.5,373.9 189.8,373.9 195.1,373.9 200.5,373.9 205.8,373.9 211.1,373.9 216.4,373.9 221.8,373.9 227.1,373.9 232.4,373.9 237.7,373.9 243.1,373.9 248.4,373.9 250.4,380.9 250.4,204.4"/>
<polygon fill="#ff4a00" points="33.3,204.4 33.3,366.4 35.3,366.4 40.6,366.6 46,366.8 51.3,366.9 56.6,367.1 61.9,367.3 67.3,367.4 72.6,367.6 77.9,367.7 83.2,367.8 88.6,367.9 93.9,368.1 99.2,368.2 104.6,368.3 109.9,368.4 115.2,368.5 120.5,368.7 125.9,368.8 131.2,369 136.5,369.2 141.8,369.4 147.2,369.7 152.5,370 157.8,370.4 163.2,370.8 168.5,371.2 173.8,371.6 179.1,372 184.5,372.5 189.8,373 195.1,373.4 200.5,373.9 205.8,373.9 211.1,373.9 216.4,373.9 221.8,373.9 227.1,373.9 232.4,373.9 237.7,373.9 243.1,373.9 248.4,373.9 250.4,378.4 250.4,204.4"/>
<polygon fill="#ff6300" points="33.3,204.4 33.3,365.3 35.3,365.3 40.6,365.5 46,365.6 51.3,365.8 56.6,365.9 61.9,366.1 67.3,366.2 72.6,366.3 77.9,366.5 83.2,366.6 88.6,366.7 93.9,366.8 99.2,366.9 104.6,366.9 109.9,367 115.2,367.1 120.5,367.2 125.9,367.4 131.2,367.5 136.5,367.7 141.8,367.9 147.2,368.1 152.5,368.4 157.8,368.7 163.2,369 168.5,369.4 173.8,369.8 179.1,370.2 184.5,370.6 189.8,371 195.1,371.4 200.5,371.8 205.8,372.3 211.1,372.7 216.4,373.2 221.8,373.6 227.1,373.9 232.4,373.9 237.7,373.9 243.1,373.9 248.4,373.9 250.4,375.9 250.4,204.4"/>
<polygon fill="#ff7c00" points="33.3,204.4 33.3,364.1 35.3,364.1 40.6,364.3 46,364.4 51.3,364.6 56.6,364.7 61.9,364.9 67.3,365 72.6,365.1 77.9,365.2 83.2,365.4 88.6,365.4 93.9,365.5 99.2,365.6 104.6,365.7 109.9,365.8 115.2,365.8 120.5,365.9 125.9,366 131.2,366.1 136.5,366.3 141.8,366.4 147.2,366.6 152.5,366.9 157.8,367.1 163.2,367.4 168.5,367.7 173.8,368 179.1,368.4 184.5,368.7 189.8,369.1 195.1,369.4 200.5,369.8 205.8,370.2 211.1,370.6 216.4,371 221.8,371.4 227.1,371.8 232.4,372.2 237.7,372.6 243.1,373 248.4,373.4 250.4,373.4 250.4,204.4"/>
<polygon fill="#ff9600" points="33.3,204.4 33.3,363 35.3,363 40.6,363.1 46,363.2 51.3,363.4 56.6,363.5 61.9,363.6 67.3,363.8 72.6,363.9 77.9,364 83.2,364.1 88.6,364.2 93.9,364.3 99.2,364.4 104.6,364.5 109.9,364.6 115.2,364.7 120.5,364.7 125.9,364.8 131.2,365 136.5,365.1 141.8,365.2 147.2,365.4 152.5,365.6 157.8,365.8 163.2,366 168.5,366.3 173.8,366.5 179.1,366.8 184.5,367.1 189.8,367.4 195.1,367.7 200.5,368 205.8,368.3 211.1,368.6 216.4,368.9 221.8,369.2 227.1,369.6 232.4,369.9 237.7,370.2 243.1,370.6 248.4,370.9 250.4,370.9 250.4,204.4"/>
<polygon fill="#ffaf00" points="33.3,204.4 33.3,361.6 35.3,361.6 40.6,361.8 46,361.9 51.3,362.1 56.6,362.2 61.9,362.3 67.3,362.5 72.6,362.6 77.9,362.7 83.2,362.8 88.6,362.9 93.9,363.1 99.2,363.2 104.6,363.3 109.9,363.4 115.2,363.5 120.5,363.6 125.9,363.7 131.2,363.8 136.5,363.9 141.8,364 147.2,364.2 152.5,364.4 157.8,364.5 163.2,364.7 168.5,364.9 173.8,365.1 179.1,365.3 184.5,365.5 189.8,365.7 195.1,365.9 200.5,366.2 205.8,366.4 211.1,366.7 216.4,366.9 221.8,367.2 227.1,367.4 232.4,367.7 237.7,367.9 243.1,368.2 248.4,368.4 250.4,368.4 250.4,204.4"/>
<polygon fill="#ffc800" points="33.3,204.4 33.3,360.1 35.3,360.1 40.6,360.2 46,360.4 51.3,360.5 56.6,360.7 61.9,360.8 67.3,361 72.6,361.1 77.9,361.2 83.2,361.4 88.6,361.5 93.9,361.6 99.2,361.7 104.6,361.9 109.9,362 115.2,362.1 120.5,362.2 125.9,362.3 131.2,362.4 136.5,362.6 141.8,362.7 147.2,362.8 152.5,363 157.8,363.1 163.2,363.3 168.5,363.4 173.8,363.6 179.1,363.8 184.5,363.9 189.8,364.1 195.1,364.3 200.5,364.4 205.8,364.6 211.1,364.8 216.4,365 221.8,365.2 227.1,365.4 232.4,365.6 237.7,365.8 243.1,366 248.4,366.1 250.4,366.1 250.4,204.4"/>
<polygon fill="#ffe100" points="33.3,204.4 33.3,358.4 35.3,358.4 40.6,358.6 46,358.8 51.3,358.9 56.6,359.1 61.9,359.2 67.3,359.4 72.6,359.5 77.9,359.7 83.2,359.8 88.6,359.9 93.9,360.1 99.2,360.2 104.6,360.4 109.9,360.5 115.2,360.6 120.5,360.7 125.9,360.9 131.2,361 136.5,361.1 141.8,361.2 147.2,361.4 152.5,361.5 157.8,361.6 163.2,361.8 168.5,361.9 173.8,362 179.1,362.1 184.5,362.3 189.8,362.4 195.1,362.5 200.5,362.7 205.8,362.8 211.1,363 216.4,363.1 221.8,363.2 227.1,363.4 232.4,363.5 237.7,363.7 243.1,363.8 248.4,363.9 250.4,363.9 250.4,204.4"/>
<polygon fill="#fffa00" points="33.3,204.4 33.3,357.1 35.3,357.1 40.6,357.3 46,357.4 51.3,357.6 56.6,357.7 61.9,357.9 67.3,358 72.6,358.2 77.9,358.3 83.2,358.4 88.6,358.6 93.9,358.7 99.2,358.9 104.6,359 109.9,359.1 115.2,359.3 120.5,359.4 125.9,359.5 131.2,359.6 136.5,359.8 141.8,359.9 147.2,360 152.5,360.1 157.8,360.2 163.2,360.3 168.5,360.4 173.8,360.5 179.1,360.6 184.5,360.7 189.8,360.8 195.1,360.9 200.5,361 205.8,361.1 211.1,361.2 216.4,361.3 221.8,361.5 227.1,361.6 232.4,361.7 237.7,361.8 243.1,362 248.4,362.1 250.4,362.1 250.4,204.4"/>
<polygon fill="#cefa11" points="33.3,204.4 33.3,355.4 35.3,355.4 40.6,355.6 46,355.7 51.3,355.8 56.6,356 61.9,356.1 67.3,356.2 72.6,356.4 77.9,356.5 83.2,356.6 88.6,356.7 93.9,356.9 99.2,357 104.6,357.1 109.9,357.3 115.2,357.4 120.5,357.5 125.9,357.6 131.2,357.8 136.5,357.9 141.8,357.9 147.2,358 152.5,358.1 157.8,358.2 163.2,358.2 168.5,358.3 173.8,358.4 179.1,358.4 184.5,358.5 189.8,358.6 195.1,358.6 200.5,358.7 205.8,358.8 211.1,358.9 216.4,359 221.8,359.1 227.1,359.3 232.4,359.4 237.7,359.5 243.1,359.6 248.4,359.7 250.4,359.7 250.4,204.4"/>
<polygon fill="#9bf922" points="33.3,204.4 33.3,351.4 35.3,351.4 40.6,351.4 46,351.5 51.3,351.6 56.6,351.7 61.9,351.7 67.3,351.8 72.6,351.9 77.9,352 83.2,352.1 88.6,352.1 93.9,352.2 99.2,352.3 104.6,352.4 109.9,352.5 115.2,352.6 120.5,352.7 125.9,352.8 131.2,352.9 136.5,353 141.8,353 147.2,353.1 152.5,353.2 157.8,353.3 163.2,353.4 168.5,353.4 173.8,353.5 179.1,353.6 184.5,353.6 189.8,353.7 195.1,353.7 200.5,353.8 205.8,353.9 211.1,353.9 216.4,354 221.8,354.1 227.1,354.1 232.4,354.2 237.7,354.2 243.1,354.3 248.4,354.3 250.4,354.3 250.4,204.4"/>
<polygon fill="#68f834" points="33.3,204.4 33.3,350 35.3,350 40.6,350 46,350.1 51.3,350.1 56.6,350.2 61.9,350.2 67.3,350.3 72.6,350.3 77.9,350.4 83.2,350.4 88.6,350.5 93.9,350.5 99.2,350.6 104.6,350.6 109.9,350.7 115.2,350.7 120.5,350.8 125.9,350.8 131.2,350.9 136.5,351 141.8,351 147.2,351.1 152.5,351.1 157.8,351.2 163.2,351.3 168.5,351.3 173.8,351.4 179.1,351.5 184.5,351.5 189.8,351.6 195.1,351.7 200.5,351.7 205.8,351.8 211.1,351.9 216.4,351.9 221.8,352 227.1,352.1 232.4,352.1 237.7,352.2 243.1,352.2 248.4,352.3 250.4,352.3 250.4,204.4"/>
<polygon fill="#35f746" points="33.3,204.4 33.3,349 35.3,349 40.6,349.1 46,349.1 51.3,349.1 56.6,349.2 61.9,349.2 67.3,349.2 72.6,349.3 77.9,349.3 83.2,349.3 88.6,349.3 93.9,349.4 99.2,349.4 104.6,349.4 109.9,349.4 115.2,349.5 120.5,349.5 125.9,349.5 131.2,349.6 136.5,349.6 141.8,349.6 147.2,349.7 152.5,349.7 157.8,349.8 163.2,349.9 168.5,349.9 173.8,350 179.1,350.1 184.5,350.1 189.8,350.2 195.1,350.2 200.5,350.3 205.8,350.4 211.1,350.4 216.4,350.5 221.8,350.6 227.1,350.6 232.4,350.7 237.7,350.7 243.1,350.8 248.4,350.8 250.4,350.8 250.4,204.4"/>
<polygon fill="#02f657" points="33.3,204.4 33.3,348.2 35.3,348.2 40.6,348.2 46,348.2 51.3,348.2 56.6,348.3 61.9,348.3 67.3,348.3 72.6,348.3 77.9,348.4 83.2,348.4 88.6,348.4 93.9,348.4 99.2,348.4 104.6,348.5 109.9,348.5 115.2,348.5 120.5,348.5 125.9,348.6 131.2,348.6 136.5,348.6 141.8,348.6 147.2,348.7 152.5,348.7 157.8,348.8 163.2,348.8 168.5,348.9 173.8,348.9 179.1,349 184.5,349 189.8,349.1 195.1,349.1 200.5,349.2 205.8,349.2 211.1,349.3 216.4,349.3 221.8,349.4 227.1,349.4 232.4,349.5 237.7,349.5 243.1,349.5 248.4,349.6 250.4,349.6 250.4,204.4"/>
<polygon fill="#00f578" points="33.3,204.4 33.3,347 35.3,347 40.6,347.1 46,347.1 51.3,347.1 56.6,347.1 61.9,347.2 67.3,347.2 72.6,347.2 77.9,347.2 83.2,347.2 88.6,347.2 93.9,347.3 99.2,347.3 104.6,347.3 109.9,347.3 115.2,347.3 120.5,347.4 125.9,347.4 131.2,347.4 136.5,347.4 141.8,347.4 147.2,347.5 152.5,347.5 157.8,347.5 163.2,347.6 168.5,347.6 173.8,347.6 179.1,347.7 184.5,347.7 189.8,347.7 195.1,347.7 200.5,347.8 205.8,347.8 211.1,347.8 216.4,347.9 221.8,347.9 227.1,347.9 232.4,348 237.7,348 243.1,348 248.4,348 250.4,348 250.4,204.4"/>
<polygon fill="#00f499" points="33.3,204.4 33.3,344.2 35.3,344.2 40.6,344.3 46,344.3 51.3,344.3 56.6,344.3 61.9,344.3 67.3,344.3 72.6,344.3 77.9,344.3 83.2,344.3 88.6,344.3 93.9,344.4 99.2,344.4 104.6,344.4 109.9,344.4 115.2,344.4 120.5,344.4 125.9,344.4 131.2,344.4 136.5,344.4 141.8,344.4 147.2,344.5 152.5,344.5 157.8,344.5 163.2,344.5 168.5,344.5 173.8,344.5 179.1,344.5 184.5,344.5 189.8,344.5 195.1,344.5 200.5,344.4 205.8,344.4 211.1,344.4 216.4,344.4 221.8,344.4 227.1,344.4 232.4,344.4 237.7,344.4 243.1,344.4 248.4,344.4 250.4,344.4 250.4,204.4"/>
<polygon fill="#00f4ba" points="33.3,204.4 33.3,341.8 35.3,341.8 40.6,341.8 46,341.8 51.3,341.8 56.6,341.8 61.9,341.8 67.3,341.8 72.6,341.8 77.9,341.8 83.2,341.8 88.6,341.8 93.9,341.8 99.2,341.8 104.6,341.8 109.9,341.8 115.2,341.8 120.5,341.8 125.9,341.8 131.2,341.8 136.5,341.8 141.8,341.8 147.2,341.8 152.5,341.8 157.8,341.7 163.2,341.7 168.5,341.7 173.8,341.7 179.1,341.6 184.5,341.6 189.8,341.6 195.1,341.5 200.5,341.5 205.8,341.5 211.1,341.4 216.4,341.4 221.8,341.3 227.1,341.3 232.4,341.2 237.7,341.2 243.1,341.1 248.4,341.1 250.4,341.1 250.4,204.4"/>
<polygon fill="#00f3db" points="33.3,204.4 33.3,339.1 35.3,339.1 40.6,339.2 46,339.2 51.3,339.2 56.6,339.2 61.9,339.2 67.3,339.2 72.6,339.2 77.9,339.2 83.2,339.2 88.6,339.2 93.9,339.3 99.2,339.3 104.6,339.2 109.9,339.2 115.2,339.2 120.5,339.2 125.9,339.2 131.2,339.2 136.5,339.2 141.8,339.2 147.2,339.1 152.5,339.1 157.8,339.1 163.2,339 168.5,339 173.8,338.9 179.1,338.9 184.5,338.8 189.8,338.7 195.1,338.7 200.5,338.6 205.8,338.5 211.1,338.4 216.4,338.3 221.8,338.2 227.1,338.1 232.4,338 237.7,337.9 243.1,337.8 248.4,337.7 250.4,337.7 250.4,204.4"/>
<polygon fill="#00f2fc" points="33.3,204.4 33.3,335.9 35.3,335.9 40.6,335.9 46,336 51.3,336 56.6,336 61.9,336 67.3,336.1 72.6,336.1 77.9,336.1 83.2,336.2 88.6,336.2 93.9,336.2 99.2,336.2 104.6,336.2 109.9,336.2 115.2,336.3 120.5,336.3 125.9,336.3 131.2,336.3 136.5,336.2 141.8,336.2 147.2,336.2 152.5,336.2 157.8,336.1 163.2,336.1 168.5,336 173.8,335.9 179.1,335.9 184.5,335.8 189.8,335.7 195.1,335.6 200.5,335.5 205.8,335.3 211.1,335.2 216.4,335.1 221.8,334.9 227.1,334.8 232.4,334.6 237.7,334.5 243.1,334.3 248.4,334.1 250.4,334.1 250.4,204.4"/>
<polygon fill="#00dbfd" points="33.3,204.4 33.3,332.4 35.3,332.4 40.6,332.5 46,332.6 51.3,332.6 56.6,332.7 61.9,332.7 67.3,332.8 72.6,332.8 77.9,332.9 83.2,332.9 88.6,332.9 93.9,333 99.2,333 104.6,333.1 109.9,333.1 115.2,333.1 120.5,333.2 125.9,333.2 131.2,333.2 136.5,333.2 141.8,333.2 147.2,333.1 152.5,333.1 157.8,333 163.2,333 168.5,332.9 173.8,332.8 179.1,332.7 184.5,332.6 189.8,332.4 195.1,332.3 200.5,332.1 205.8,331.9 211.1,331.7 216.4,331.4 221.8,331.2 227.1,331 232.4,330.7 237.7,330.5 243.1,330.2 248.4,330 250.4,330 250.4,204.4"/>
<polygon fill="#00c3fe" points="33.3,204.4 33.3,329.3 35.3,329.3 40.6,329.4 46,329.5 51.3,329.6 56.6,329.7 61.9,329.8 67.3,329.9 72.6,329.9 77.9,330 83.2,330.1 88.6,330.1 93.9,330.2 99.2,330.2 104.6,330.2 109.9,330.3 115.2,330.3 120.5,330.3 125.9,330.3 131.2,330.3 136.5,330.3 141.8,330.2 147.2,330.2 152.5,330.2 157.8,330.1 163.2,330 168.5,329.9 173.8,329.7 179.1,329.6 184.5,329.4 189.8,329.1 195.1,328.8 200.5,328.4 205.8,328 211.1,327.5 216.4,327 221.8,326.5 227.1,326 232.4,325.4 237.7,324.8 243.1,324.2 248.4,323.6 250.4,323.6 250.4,204.4"/>
<polygon fill="#00abfe" points="33.3,204.4 33.3,326.3 35.3,326.3 40.6,326.4 46,326.5 51.3,326.6 56.6,326.8 61.9,326.9 67.3,327 72.6,327.1 77.9,327.2 83.2,327.3 88.6,327.3 93.9,327.4 99.2,327.4 104.6,327.4 109.9,327.4 115.2,327.4 120.5,327.4 125.9,327.3 131.2,327.3 136.5,327.3 141.8,327.2 147.2,327.2 152.5,327.1 157.8,327.1 163.2,327 168.5,326.8 173.8,326.6 179.1,326.3 184.5,326 189.8,325.5 195.1,325 200.5,324.4 205.8,323.6 211.1,322.8 216.4,321.9 221.8,321 227.1,320 232.4,318.9 237.7,317.8 243.1,316.7 248.4,315.6 250.4,315.6 250.4,204.4"/>
<polygon fill="#0093fe" points="33.3,204.4 33.3,322.4 35.3,322.4 40.6,322.6 46,322.8 51.3,323 56.6,323.1 61.9,323.3 67.3,323.4 72.6,323.5 77.9,323.6 83.2,323.7 88.6,323.7 93.9,323.8 99.2,323.8 104.6,323.8 109.9,323.8 115.2,323.7 120.5,323.7 125.9,323.6 131.2,323.6 136.5,323.5 141.8,323.5 147.2,323.4 152.5,323.3 157.8,323.2 163.2,323.1 168.5,322.9 173.8,322.6 179.1,322.2 184.5,321.8 189.8,321.2 195.1,320.5 200.5,319.6 205.8,318.6 211.1,317.5 216.4,316.3 221.8,315 227.1,313.6 232.4,312.1 237.7,310.6 243.1,309.1 248.4,307.6 250.4,307.6 250.4,204.4"/>
<polygon fill="#007bfe" points="33.3,204.4 33.3,316.8 35.3,316.8 40.6,316.9 46,317.1 51.3,317.3 56.6,317.4 61.9,317.6 67.3,317.7 72.6,317.8 77.9,317.9 83.2,318 88.6,318 93.9,318.1 99.2,318.1 104.6,318 109.9,318 115.2,317.9 120.5,317.8 125.9,317.7 131.2,317.7 136.5,317.6 141.8,317.5 147.2,317.3 152.5,317.2 157.8,317.1 163.2,316.9 168.5,316.7 173.8,316.3 179.1,315.9 184.5,315.4 189.8,314.7 195.1,314 200.5,313 205.8,312 211.1,310.8 216.4,309.4 221.8,308 227.1,306.6 232.4,305 237.7,303.4 243.1,301.8 248.4,300.2 250.4,300.2 250.4,204.4"/>
<polygon fill="#0063ff" points="33.3,204.4 33.3,308.9 35.3,308.9 40.6,309.2 46,309.5 51.3,309.7 56.6,310 61.9,310.2 67.3,310.4 72.6,310.5 77.9,310.7 83.2,310.8 88.6,310.8 93.9,310.9 99.2,310.9 104.6,310.8 109.9,310.7 115.2,310.6 120.5,310.5 125.9,310.4 131.2,310.2 136.5,310.1 141.8,310 147.2,309.8 152.5,309.6 157.8,309.5 163.2,309.2 168.5,308.9 173.8,308.6 179.1,308.1 184.5,307.5 189.8,306.8 195.1,306 200.5,305 205.8,303.8 211.1,302.5 216.4,301.1 221.8,299.6 227.1,298.1 232.4,296.4 237.7,294.7 243.1,293 248.4,291.3 250.4,291.3 250.4,204.4"/>
<polygon fill="#004bff" points="33.3,204.4 33.3,300.4 35.3,300.4 40.6,300.7 46,301 51.3,301.3 56.6,301.6 61.9,301.9 67.3,302.1 72.6,302.3 77.9,302.5 83.2,302.6 88.6,302.7 93.9,302.8 99.2,302.8 104.6,302.8 109.9,302.8 115.2,302.7 120.5,302.6 125.9,302.5 131.2,302.3 136.5,302.2 141.8,302 147.2,301.7 152.5,301.5 157.8,301.2 163.2,300.8 168.5,300.4 173.8,299.8 179.1,299.2 184.5,298.4 189.8,297.5 195.1,296.5 200.5,295.2 205.8,293.9 211.1,292.4 216.4,290.8 221.8,289 227.1,287.2 232.4,285.3 237.7,283.4 243.1,281.5 248.4,279.5 250.4,279.5 250.4,204.4"/>
<polygon fill="#002fff" points="33.3,204.4 33.3,292.4 35.3,292.4 40.6,292.9 46,293.2 51.3,293.6 56.6,294 61.9,294.3 67.3,294.5 72.6,294.7 77.9,294.9 83.2,295 88.6,295 93.9,294.9 99.2,294.7 104.6,294.4 109.9,294.1 115.2,293.8 120.5,293.4 125.9,293.1 131.2,292.7 136.5,292.3 141.8,292 147.2,291.6 152.5,291.3 157.8,291 163.2,290.6 168.5,290.1 173.8,289.5 179.1,288.8 184.5,287.9 189.8,286.8 195.1,285.5 200.5,283.9 205.8,282.1 211.1,280.1 216.4,277.9 221.8,275.6 227.1,273.1 232.4,270.6 237.7,267.9 243.1,265.2 248.4,262.5 250.4,262.5 250.4,204.4"/>
<polygon fill="#0010ff" points="33.3,204.4 33.3,278.4 35.3,278.4 40.6,279 46,279.6 51.3,280.1 56.6,280.6 61.9,281.1 67.3,281.5 72.6,281.8 77.9,282.1 83.2,282.3 88.6,282.4 93.9,282.5 99.2,282.4 104.6,282.3 109.9,282.1 115.2,281.8 120.5,281.4 125.9,281 131.2,280.5 136.5,280 141.8,279.5 147.2,278.9 152.5,278.2 157.8,277.4 163.2,276.5 168.5,275.5 173.8,274.2 179.1,272.7 184.5,270.9 189.8,268.9 195.1,266.5 200.5,263.7 205.8,260.7 211.1,257.3 216.4,253.7 221.8,249.8 227.1,245.8 232.4,241.6 237.7,237.3 243.1,232.9 248.4,228.5 250.4,228.5 250.4,204.4"/>
<polygon fill="#0001ff" points="170.5,227 170.5,231.7 169.6,235.2 167.8,238.4 165.2,241.4 161.7,244.1 157.4,246.6 152.3,248.9 146.5,251 139.7,252.8 132.2,254.5 123.4,255.9 111.3,257.3 99.2,258.4 90.3,258.9 82.6,258.9 75.6,258.4 69.4,257.6 64,256.5 59.3,254.9 55.3,252.9 52.1,250.6 49.7,247.8 48.1,244.6 47.1,239.9 47.1,235.2 48,231.7 49.8,228.5 52.4,225.5 55.9,222.8 60.2,220.3 65.3,218 71.1,215.9 77.9,214.1 85.4,212.4 94.2,211 106.3,209.6 118.4,208.5 127.3,208 135,208 142,208.5 148.2,209.3 153.6,210.4 158.3,212 162.3,214 165.5,216.3 167.9,219.1 169.5,222.3"/>
</g>
<rect x="35.3" y="209.4" width="213.1" height="160.4" fill="none" stroke="#181828" stroke-width="0.85"/>
<path d="M35.3 209.4V369.9H248.4" fill="none" stroke="#111" stroke-width="1"/>
<path d="M35.3 369.9h-3.2M35.3 343.1h-3.2M35.3 316.4h-3.2M35.3 289.7h-3.2M35.3 262.9h-3.2M35.3 236.2h-3.2M35.3 209.5h-3.2M35.3 369.9v3.2M61.9 369.9v3.2M88.6 369.9v3.2M115.2 369.9v3.2M141.8 369.9v3.2M168.5 369.9v3.2M195.1 369.9v3.2M221.8 369.9v3.2M248.4 369.9v3.2" stroke="#111" stroke-width="0.9" fill="none"/>
<g class="tk" text-anchor="end">
<text x="30.7" y="373.2">36</text>
<text x="30.7" y="346.5">40</text>
<text x="30.7" y="319.9">44</text>
<text x="30.7" y="293.2">48</text>
<text x="30.7" y="266.6">52</text>
<text x="30.7" y="239.9">56</text>
<text x="30.7" y="213.3">60</text>
</g>
<g class="tk" text-anchor="middle">
<text x="35.3" y="384">0</text>
<text x="61.9" y="384">4</text>
<text x="88.6" y="384">8</text>
<text x="115.2" y="384">12</text>
<text x="141.8" y="384">16</text>
<text x="168.5" y="384">20</text>
<text x="195.1" y="384">24</text>
<text x="221.8" y="384">28</text>
<text x="248.4" y="384">32</text>
</g>
<text class="ax" text-anchor="middle" x="141.8" y="400">Longitude (degrees)</text>
<text class="ax ay" text-anchor="middle" transform="translate(12.7 289.6) rotate(-90)">Latitude (degrees)</text>
<text class="pl" x="160.2" y="224.8" textLength="83.9" lengthAdjust="spacingAndGlyphs">(c) ARTHCEOF</text>
<clipPath id="clipd"><rect x="290.3" y="209.4" width="212.6" height="160.4"/></clipPath>
<g clip-path="url(#clipd)">
<rect x="290.3" y="209.4" width="212.6" height="160.4" fill="#ff0000"/>
<polygon fill="#ff1800" points="288.3,204.4 288.3,370.4 290.3,370.4 295.6,370.6 300.9,370.8 306.2,370.9 311.6,371.1 316.9,371.3 322.2,371.4 327.5,371.5 332.8,371.7 338.1,371.8 343.4,371.9 348.8,372.1 354.1,372.2 359.4,372.3 364.7,372.4 370,372.5 375.3,372.7 380.7,372.8 386,373 391.3,373.2 396.6,373.4 401.9,373.7 407.2,373.9 412.5,373.9 417.9,373.9 423.2,373.9 428.5,373.9 433.8,373.9 439.1,373.9 444.4,373.9 449.8,373.9 455.1,373.9 460.4,373.9 465.7,373.9 471,373.9 476.3,373.9 481.6,373.9 487,373.9 492.3,373.9 497.6,373.9 502.9,373.9 504.9,383.4 504.9,204.4"/>
<polygon fill="#ff3100" points="288.3,204.4 288.3,368.5 290.3,368.5 295.6,368.7 300.9,368.8 306.2,369 311.6,369.2 316.9,369.3 322.2,369.5 327.5,369.6 332.8,369.7 338.1,369.9 343.4,370 348.8,370.1 354.1,370.2 359.4,370.3 364.7,370.4 370,370.5 375.3,370.7 380.7,370.8 386,371 391.3,371.2 396.6,371.5 401.9,371.7 407.2,372 412.5,372.4 417.9,372.7 423.2,373.1 428.5,373.5 433.8,373.9 439.1,373.9 444.4,373.9 449.8,373.9 455.1,373.9 460.4,373.9 465.7,373.9 471,373.9 476.3,373.9 481.6,373.9 487,373.9 492.3,373.9 497.6,373.9 502.9,373.9 504.9,380.9 504.9,204.4"/>
<polygon fill="#ff4a00" points="288.3,204.4 288.3,366.9 290.3,366.9 295.6,367 300.9,367.2 306.2,367.3 311.6,367.5 316.9,367.6 322.2,367.7 327.5,367.9 332.8,368 338.1,368.1 343.4,368.2 348.8,368.4 354.1,368.5 359.4,368.6 364.7,368.7 370,368.8 375.3,368.9 380.7,369 386,369.2 391.3,369.4 396.6,369.6 401.9,369.9 407.2,370.2 412.5,370.5 417.9,370.9 423.2,371.2 428.5,371.6 433.8,372.1 439.1,372.5 444.4,372.9 449.8,373.4 455.1,373.9 460.4,373.9 465.7,373.9 471,373.9 476.3,373.9 481.6,373.9 487,373.9 492.3,373.9 497.6,373.9 502.9,373.9 504.9,378.4 504.9,204.4"/>
<polygon fill="#ff6300" points="288.3,204.4 288.3,365.4 290.3,365.4 295.6,365.6 300.9,365.7 306.2,365.9 311.6,366 316.9,366.2 322.2,366.3 327.5,366.4 332.8,366.6 338.1,366.7 343.4,366.8 348.8,366.9 354.1,367 359.4,367 364.7,367.1 370,367.2 375.3,367.3 380.7,367.4 386,367.6 391.3,367.7 396.6,367.9 401.9,368.2 407.2,368.4 412.5,368.7 417.9,369.1 423.2,369.4 428.5,369.8 433.8,370.1 439.1,370.5 444.4,371 449.8,371.4 455.1,371.8 460.4,372.2 465.7,372.7 471,373.1 476.3,373.6 481.6,373.9 487,373.9 492.3,373.9 497.6,373.9 502.9,373.9 504.9,375.9 504.9,204.4"/>
<polygon fill="#ff7c00" points="288.3,204.4 288.3,364.1 290.3,364.1 295.6,364.3 300.9,364.4 306.2,364.6 311.6,364.7 316.9,364.9 322.2,365 327.5,365.1 332.8,365.2 338.1,365.4 343.4,365.4 348.8,365.5 354.1,365.6 359.4,365.7 364.7,365.8 370,365.8 375.3,365.9 380.7,366 386,366.1 391.3,366.3 396.6,366.4 401.9,366.6 407.2,366.9 412.5,367.1 417.9,367.4 423.2,367.7 428.5,368 433.8,368.3 439.1,368.7 444.4,369 449.8,369.4 455.1,369.8 460.4,370.2 465.7,370.6 471,371 476.3,371.4 481.6,371.8 487,372.2 492.3,372.6 497.6,373 502.9,373.4 504.9,373.4 504.9,204.4"/>
<polygon fill="#ff9600" points="288.3,204.4 288.3,362.9 290.3,362.9 295.6,363.1 300.9,363.2 306.2,363.4 311.6,363.5 316.9,363.6 322.2,363.8 327.5,363.9 332.8,364 338.1,364.1 343.4,364.2 348.8,364.3 354.1,364.4 359.4,364.5 364.7,364.6 370,364.6 375.3,364.7 380.7,364.8 386,364.9 391.3,365.1 396.6,365.2 401.9,365.4 407.2,365.6 412.5,365.8 417.9,366 423.2,366.3 428.5,366.5 433.8,366.8 439.1,367.1 444.4,367.3 449.8,367.6 455.1,367.9 460.4,368.3 465.7,368.6 471,368.9 476.3,369.2 481.6,369.5 487,369.9 492.3,370.2 497.6,370.5 502.9,370.9 504.9,370.9 504.9,204.4"/>
<polygon fill="#ffaf00" points="288.3,204.4 288.3,361.6 290.3,361.6 295.6,361.8 300.9,361.9 306.2,362.1 311.6,362.2 316.9,362.3 322.2,362.5 327.5,362.6 332.8,362.7 338.1,362.8 343.4,362.9 348.8,363.1 354.1,363.2 359.4,363.3 364.7,363.4 370,363.5 375.3,363.6 380.7,363.7 386,363.8 391.3,363.9 396.6,364 401.9,364.2 407.2,364.3 412.5,364.5 417.9,364.7 423.2,364.9 428.5,365.1 433.8,365.3 439.1,365.5 444.4,365.7 449.8,365.9 455.1,366.2 460.4,366.4 465.7,366.6 471,366.9 476.3,367.1 481.6,367.4 487,367.6 492.3,367.9 497.6,368.2 502.9,368.4 504.9,368.4 504.9,204.4"/>
<polygon fill="#ffc800" points="288.3,204.4 288.3,360.1 290.3,360.1 295.6,360.2 300.9,360.4 306.2,360.5 311.6,360.7 316.9,360.8 322.2,361 327.5,361.1 332.8,361.2 338.1,361.4 343.4,361.5 348.8,361.6 354.1,361.7 359.4,361.9 364.7,362 370,362.1 375.3,362.2 380.7,362.3 386,362.4 391.3,362.6 396.6,362.7 401.9,362.8 407.2,363 412.5,363.1 417.9,363.3 423.2,363.4 428.5,363.6 433.8,363.7 439.1,363.9 444.4,364.1 449.8,364.3 455.1,364.4 460.4,364.6 465.7,364.8 471,365 476.3,365.2 481.6,365.4 487,365.6 492.3,365.7 497.6,365.9 502.9,366.1 504.9,366.1 504.9,204.4"/>
<polygon fill="#ffe100" points="288.3,204.4 288.3,358.4 290.3,358.4 295.6,358.6 300.9,358.8 306.2,358.9 311.6,359.1 316.9,359.2 322.2,359.4 327.5,359.5 332.8,359.7 338.1,359.8 343.4,359.9 348.8,360.1 354.1,360.2 359.4,360.4 364.7,360.5 370,360.6 375.3,360.7 380.7,360.9 386,361 391.3,361.1 396.6,361.2 401.9,361.4 407.2,361.5 412.5,361.6 417.9,361.8 423.2,361.9 428.5,362 433.8,362.1 439.1,362.3 444.4,362.4 449.8,362.5 455.1,362.7 460.4,362.8 465.7,362.9 471,363.1 476.3,363.2 481.6,363.4 487,363.5 492.3,363.7 497.6,363.8 502.9,363.9 504.9,363.9 504.9,204.4"/>
<polygon fill="#fffa00" points="288.3,204.4 288.3,357.1 290.3,357.1 295.6,357.3 300.9,357.4 306.2,357.6 311.6,357.7 316.9,357.9 322.2,358 327.5,358.2 332.8,358.3 338.1,358.4 343.4,358.6 348.8,358.7 354.1,358.9 359.4,359 364.7,359.1 370,359.3 375.3,359.4 380.7,359.5 386,359.6 391.3,359.8 396.6,359.9 401.9,360 407.2,360.1 412.5,360.2 417.9,360.3 423.2,360.4 428.5,360.5 433.8,360.6 439.1,360.7 444.4,360.8 449.8,360.9 455.1,361 460.4,361.1 465.7,361.2 471,361.3 476.3,361.4 481.6,361.6 487,361.7 492.3,361.8 497.6,362 502.9,362.1 504.9,362.1 504.9,204.4"/>
<polygon fill="#cefa11" points="288.3,204.4 288.3,355.4 290.3,355.4 295.6,355.6 300.9,355.7 306.2,355.8 311.6,356 316.9,356.1 322.2,356.2 327.5,356.4 332.8,356.5 338.1,356.6 343.4,356.7 348.8,356.9 354.1,357 359.4,357.1 364.7,357.3 370,357.4 375.3,357.5 380.7,357.6 386,357.7 391.3,357.9 396.6,357.9 401.9,358 407.2,358.1 412.5,358.2 417.9,358.2 423.2,358.3 428.5,358.4 433.8,358.4 439.1,358.5 444.4,358.6 449.8,358.6 455.1,358.7 460.4,358.8 465.7,358.9 471,359 476.3,359.1 481.6,359.3 487,359.4 492.3,359.5 497.6,359.6 502.9,359.7 504.9,359.7 504.9,204.4"/>
<polygon fill="#9bf922" points="288.3,204.4 288.3,351.4 290.3,351.4 295.6,351.4 300.9,351.5 306.2,351.6 311.6,351.7 316.9,351.7 322.2,351.8 327.5,351.9 332.8,352 338.1,352.1 343.4,352.1 348.8,352.2 354.1,352.3 359.4,352.4 364.7,352.5 370,352.6 375.3,352.7 380.7,352.8 386,352.9 391.3,353 396.6,353 401.9,353.1 407.2,353.2 412.5,353.3 417.9,353.4 423.2,353.4 428.5,353.5 433.8,353.6 439.1,353.6 444.4,353.7 449.8,353.7 455.1,353.8 460.4,353.9 465.7,353.9 471,354 476.3,354 481.6,354.1 487,354.2 492.3,354.2 497.6,354.3 502.9,354.3 504.9,354.3 504.9,204.4"/>
<polygon fill="#68f834" points="288.3,204.4 288.3,350 290.3,350 295.6,350 300.9,350.1 306.2,350.1 311.6,350.2 316.9,350.2 322.2,350.3 327.5,350.3 332.8,350.4 338.1,350.4 343.4,350.5 348.8,350.5 354.1,350.6 359.4,350.6 364.7,350.7 370,350.7 375.3,350.8 380.7,350.8 386,350.9 391.3,351 396.6,351 401.9,351.1 407.2,351.1 412.5,351.2 417.9,351.3 423.2,351.3 428.5,351.4 433.8,351.5 439.1,351.5 444.4,351.6 449.8,351.7 455.1,351.7 460.4,351.8 465.7,351.9 471,351.9 476.3,352 481.6,352 487,352.1 492.3,352.2 497.6,352.2 502.9,352.3 504.9,352.3 504.9,204.4"/>
<polygon fill="#35f746" points="288.3,204.4 288.3,349 290.3,349 295.6,349.1 300.9,349.1 306.2,349.1 311.6,349.2 316.9,349.2 322.2,349.2 327.5,349.3 332.8,349.3 338.1,349.3 343.4,349.3 348.8,349.4 354.1,349.4 359.4,349.4 364.7,349.4 370,349.5 375.3,349.5 380.7,349.5 386,349.6 391.3,349.6 396.6,349.6 401.9,349.7 407.2,349.7 412.5,349.8 417.9,349.9 423.2,349.9 428.5,350 433.8,350 439.1,350.1 444.4,350.2 449.8,350.2 455.1,350.3 460.4,350.4 465.7,350.4 471,350.5 476.3,350.6 481.6,350.6 487,350.7 492.3,350.7 497.6,350.8 502.9,350.8 504.9,350.8 504.9,204.4"/>
<polygon fill="#02f657" points="288.3,204.4 288.3,348.2 290.3,348.2 295.6,348.2 300.9,348.2 306.2,348.2 311.6,348.3 316.9,348.3 322.2,348.3 327.5,348.3 332.8,348.4 338.1,348.4 343.4,348.4 348.8,348.4 354.1,348.4 359.4,348.5 364.7,348.5 370,348.5 375.3,348.5 380.7,348.5 386,348.6 391.3,348.6 396.6,348.6 401.9,348.7 407.2,348.7 412.5,348.8 417.9,348.8 423.2,348.9 428.5,348.9 433.8,349 439.1,349 444.4,349.1 449.8,349.1 455.1,349.2 460.4,349.2 465.7,349.3 471,349.3 476.3,349.4 481.6,349.4 487,349.4 492.3,349.5 497.6,349.5 502.9,349.6 504.9,349.6 504.9,204.4"/>
<polygon fill="#00f578" points="288.3,204.4 288.3,347 290.3,347 295.6,347.1 300.9,347.1 306.2,347.1 311.6,347.1 316.9,347.2 322.2,347.2 327.5,347.2 332.8,347.2 338.1,347.2 343.4,347.2 348.8,347.3 354.1,347.3 359.4,347.3 364.7,347.3 370,347.3 375.3,347.4 380.7,347.4 386,347.4 391.3,347.4 396.6,347.4 401.9,347.5 407.2,347.5 412.5,347.5 417.9,347.6 423.2,347.6 428.5,347.6 433.8,347.7 439.1,347.7 444.4,347.7 449.8,347.7 455.1,347.8 460.4,347.8 465.7,347.8 471,347.9 476.3,347.9 481.6,347.9 487,348 492.3,348 497.6,348 502.9,348 504.9,348 504.9,204.4"/>
<polygon fill="#00f499" points="288.3,204.4 288.3,344.2 290.3,344.2 295.6,344.3 300.9,344.3 306.2,344.3 311.6,344.3 316.9,344.3 322.2,344.3 327.5,344.3 332.8,344.3 338.1,344.3 343.4,344.3 348.8,344.4 354.1,344.4 359.4,344.4 364.7,344.4 370,344.4 375.3,344.4 380.7,344.4 386,344.4 391.3,344.4 396.6,344.4 401.9,344.5 407.2,344.5 412.5,344.5 417.9,344.5 423.2,344.5 428.5,344.5 433.8,344.5 439.1,344.5 444.4,344.5 449.8,344.5 455.1,344.4 460.4,344.4 465.7,344.4 471,344.4 476.3,344.4 481.6,344.4 487,344.4 492.3,344.4 497.6,344.4 502.9,344.4 504.9,344.4 504.9,204.4"/>
<polygon fill="#00f4ba" points="288.3,204.4 288.3,341.7 290.3,341.7 295.6,341.7 300.9,341.7 306.2,341.7 311.6,341.7 316.9,341.7 322.2,341.7 327.5,341.7 332.8,341.7 338.1,341.7 343.4,341.8 348.8,341.8 354.1,341.8 359.4,341.8 364.7,341.8 370,341.8 375.3,341.8 380.7,341.8 386,341.8 391.3,341.7 396.6,341.7 401.9,341.7 407.2,341.7 412.5,341.7 417.9,341.7 423.2,341.6 428.5,341.6 433.8,341.6 439.1,341.5 444.4,341.5 449.8,341.5 455.1,341.4 460.4,341.4 465.7,341.4 471,341.3 476.3,341.3 481.6,341.2 487,341.2 492.3,341.1 497.6,341.1 502.9,341 504.9,341 504.9,204.4"/>
<polygon fill="#00f3db" points="288.3,204.4 288.3,339.1 290.3,339.1 295.6,339.2 300.9,339.2 306.2,339.2 311.6,339.2 316.9,339.2 322.2,339.2 327.5,339.2 332.8,339.2 338.1,339.2 343.4,339.2 348.8,339.3 354.1,339.3 359.4,339.2 364.7,339.2 370,339.2 375.3,339.2 380.7,339.2 386,339.2 391.3,339.2 396.6,339.2 401.9,339.1 407.2,339.1 412.5,339.1 417.9,339 423.2,339 428.5,338.9 433.8,338.9 439.1,338.8 444.4,338.7 449.8,338.7 455.1,338.6 460.4,338.5 465.7,338.4 471,338.3 476.3,338.2 481.6,338.1 487,338 492.3,337.9 497.6,337.8 502.9,337.7 504.9,337.7 504.9,204.4"/>
<polygon fill="#00f2fc" points="288.3,204.4 288.3,336.6 290.3,336.6 295.6,336.6 300.9,336.6 306.2,336.6 311.6,336.7 316.9,336.7 322.2,336.7 327.5,336.7 332.8,336.7 338.1,336.7 343.4,336.8 348.8,336.8 354.1,336.8 359.4,336.8 364.7,336.8 370,336.8 375.3,336.8 380.7,336.8 386,336.8 391.3,336.7 396.6,336.7 401.9,336.7 407.2,336.6 412.5,336.6 417.9,336.5 423.2,336.5 428.5,336.4 433.8,336.3 439.1,336.2 444.4,336.1 449.8,336 455.1,335.9 460.4,335.8 465.7,335.7 471,335.5 476.3,335.4 481.6,335.2 487,335.1 492.3,334.9 497.6,334.7 502.9,334.6 504.9,334.6 504.9,204.4"/>
<polygon fill="#00dbfd" points="288.3,204.4 288.3,333.8 290.3,333.8 295.6,333.8 300.9,333.8 306.2,333.9 311.6,333.9 316.9,334 322.2,334 327.5,334.1 332.8,334.1 338.1,334.1 343.4,334.1 348.8,334.2 354.1,334.2 359.4,334.2 364.7,334.2 370,334.2 375.3,334.2 380.7,334.2 386,334.2 391.3,334.2 396.6,334.2 401.9,334.1 407.2,334.1 412.5,334 417.9,334 423.2,333.9 428.5,333.8 433.8,333.7 439.1,333.6 444.4,333.4 449.8,333.3 455.1,333.1 460.4,332.9 465.7,332.7 471,332.5 476.3,332.2 481.6,332 487,331.8 492.3,331.5 497.6,331.2 502.9,331 504.9,331 504.9,204.4"/>
<polygon fill="#00c3fe" points="288.3,204.4 288.3,330.6 290.3,330.6 295.6,330.7 300.9,330.8 306.2,330.9 311.6,331 316.9,331 322.2,331.1 327.5,331.2 332.8,331.3 338.1,331.3 343.4,331.4 348.8,331.4 354.1,331.4 359.4,331.4 364.7,331.5 370,331.4 375.3,331.4 380.7,331.4 386,331.4 391.3,331.4 396.6,331.3 401.9,331.3 407.2,331.3 412.5,331.2 417.9,331.1 423.2,331 428.5,330.9 433.8,330.8 439.1,330.6 444.4,330.3 449.8,330 455.1,329.7 460.4,329.3 465.7,328.9 471,328.4 476.3,327.9 481.6,327.3 487,326.8 492.3,326.2 497.6,325.6 502.9,325 504.9,325 504.9,204.4"/>
<polygon fill="#00abfe" points="288.3,204.4 288.3,327 290.3,327 295.6,327.2 300.9,327.4 306.2,327.5 311.6,327.7 316.9,327.9 322.2,328 327.5,328.1 332.8,328.2 338.1,328.3 343.4,328.4 348.8,328.4 354.1,328.4 359.4,328.4 364.7,328.4 370,328.4 375.3,328.4 380.7,328.3 386,328.3 391.3,328.3 396.6,328.2 401.9,328.2 407.2,328.2 412.5,328.1 417.9,328.1 423.2,327.9 428.5,327.8 433.8,327.5 439.1,327.2 444.4,326.9 449.8,326.4 455.1,325.8 460.4,325.1 465.7,324.3 471,323.4 476.3,322.5 481.6,321.5 487,320.5 492.3,319.4 497.6,318.3 502.9,317.2 504.9,317.2 504.9,204.4"/>
<polygon fill="#0093fe" points="288.3,204.4 288.3,322.9 290.3,322.9 295.6,323.2 300.9,323.4 306.2,323.6 311.6,323.9 316.9,324.1 322.2,324.3 327.5,324.4 332.8,324.6 338.1,324.7 343.4,324.7 348.8,324.8 354.1,324.8 359.4,324.8 364.7,324.8 370,324.7 375.3,324.7 380.7,324.6 386,324.6 391.3,324.5 396.6,324.5 401.9,324.4 407.2,324.4 412.5,324.3 417.9,324.2 423.2,324.1 428.5,323.9 433.8,323.6 439.1,323.2 444.4,322.7 449.8,322 455.1,321.2 460.4,320.3 465.7,319.2 471,318.1 476.3,316.8 481.6,315.5 487,314.1 492.3,312.7 497.6,311.2 502.9,309.7 504.9,309.7 504.9,204.4"/>
<polygon fill="#007bfe" points="288.3,204.4 288.3,317.8 290.3,317.8 295.6,318 300.9,318.2 306.2,318.5 311.6,318.7 316.9,318.9 322.2,319.1 327.5,319.2 332.8,319.4 338.1,319.5 343.4,319.5 348.8,319.6 354.1,319.6 359.4,319.6 364.7,319.5 370,319.4 375.3,319.3 380.7,319.2 386,319.1 391.3,319 396.6,319 401.9,318.9 407.2,318.8 412.5,318.7 417.9,318.5 423.2,318.3 428.5,318.1 433.8,317.7 439.1,317.3 444.4,316.7 449.8,316 455.1,315.2 460.4,314.2 465.7,313.1 471,311.9 476.3,310.6 481.6,309.2 487,307.8 492.3,306.3 497.6,304.8 502.9,303.2 504.9,303.2 504.9,204.4"/>
<polygon fill="#0063ff" points="288.3,204.4 288.3,310.4 290.3,310.4 295.6,310.8 300.9,311.1 306.2,311.4 311.6,311.6 316.9,311.9 322.2,312.1 327.5,312.3 332.8,312.5 338.1,312.6 343.4,312.6 348.8,312.7 354.1,312.6 359.4,312.6 364.7,312.5 370,312.3 375.3,312.2 380.7,312 386,311.8 391.3,311.6 396.6,311.5 401.9,311.3 407.2,311.1 412.5,310.9 417.9,310.7 423.2,310.4 428.5,310 433.8,309.6 439.1,309 444.4,308.3 449.8,307.5 455.1,306.6 460.4,305.5 465.7,304.2 471,302.9 476.3,301.4 481.6,299.9 487,298.3 492.3,296.7 497.6,295 502.9,293.3 504.9,293.3 504.9,204.4"/>
<polygon fill="#004bff" points="288.3,204.4 288.3,302.9 290.3,302.9 295.6,303.2 300.9,303.5 306.2,303.8 311.6,304 316.9,304.3 322.2,304.5 327.5,304.7 332.8,304.8 338.1,304.9 343.4,304.9 348.8,305 354.1,304.9 359.4,304.8 364.7,304.7 370,304.6 375.3,304.4 380.7,304.2 386,303.9 391.3,303.7 396.6,303.5 401.9,303.2 407.2,302.9 412.5,302.6 417.9,302.3 423.2,301.8 428.5,301.3 433.8,300.7 439.1,300 444.4,299.1 449.8,298 455.1,296.8 460.4,295.5 465.7,294 471,292.4 476.3,290.7 481.6,288.8 487,287 492.3,285 497.6,283.1 502.9,281.1 504.9,281.1 504.9,204.4"/>
<polygon fill="#002fff" points="288.3,204.4 288.3,293.8 290.3,293.8 295.6,294.1 300.9,294.4 306.2,294.7 311.6,295 316.9,295.3 322.2,295.5 327.5,295.7 332.8,295.9 338.1,296 343.4,296 348.8,296 354.1,296 359.4,295.9 364.7,295.7 370,295.5 375.3,295.2 380.7,295 386,294.7 391.3,294.3 396.6,294 401.9,293.6 407.2,293.2 412.5,292.8 417.9,292.2 423.2,291.6 428.5,290.9 433.8,290.1 439.1,289.1 444.4,287.9 449.8,286.6 455.1,285 460.4,283.3 465.7,281.4 471,279.3 476.3,277.2 481.6,274.9 487,272.5 492.3,270.1 497.6,267.6 502.9,265.1 504.9,265.1 504.9,204.4"/>
<polygon fill="#0010ff" points="288.3,204.4 288.3,279.4 290.3,279.4 295.6,279.9 300.9,280.4 306.2,280.9 311.6,281.3 316.9,281.7 322.2,282.1 327.5,282.4 332.8,282.6 338.1,282.8 343.4,282.9 348.8,283 354.1,283 359.4,282.8 364.7,282.6 370,282.3 375.3,281.8 380.7,281.3 386,280.7 391.3,279.9 396.6,279 401.9,278 407.2,276.8 412.5,275.5 417.9,274.1 423.2,272.5 428.5,270.8 433.8,268.9 439.1,266.8 444.4,264.6 449.8,262.2 455.1,259.6 460.4,256.8 465.7,253.9 471,250.8 476.3,247.7 481.6,244.4 487,241.1 492.3,237.7 497.6,234.3 502.9,230.8 504.9,230.8 504.9,204.4"/>
<polygon fill="#0001ff" points="425.3,224 425.5,229 424.6,232.8 422.8,236.2 420,239.4 416.4,242.3 411.9,245.1 406.6,247.6 400.4,249.9 393.4,252 385.4,253.9 376.1,255.5 363.4,257.3 350.6,258.7 341.3,259.3 333.1,259.4 325.7,259.1 319.2,258.3 313.4,257.2 308.4,255.6 304.1,253.6 300.7,251.2 298.1,248.3 296.3,244.8 295.3,239.9 295.1,234.9 296,231.1 297.8,227.7 300.6,224.5 304.2,221.6 308.7,218.8 314,216.3 320.2,214 327.2,211.9 335.2,210 344.5,208.4 357.2,206.6 370,205.2 379.3,204.6 387.5,204.5 394.9,204.8 401.4,205.6 407.2,206.7 412.2,208.3 416.5,210.3 419.9,212.7 422.5,215.6 424.3,219.1"/>
</g>
<rect x="290.3" y="209.4" width="212.6" height="160.4" fill="none" stroke="#181828" stroke-width="0.85"/>
<path d="M290.3 209.4V369.9H502.9" fill="none" stroke="#111" stroke-width="1"/>
<path d="M290.3 369.9h-3.2M290.3 343.1h-3.2M290.3 316.4h-3.2M290.3 289.7h-3.2M290.3 262.9h-3.2M290.3 236.2h-3.2M290.3 209.5h-3.2M290.3 369.9v3.2M316.9 369.9v3.2M343.4 369.9v3.2M370 369.9v3.2M396.6 369.9v3.2M423.2 369.9v3.2M449.8 369.9v3.2M476.3 369.9v3.2M502.9 369.9v3.2" stroke="#111" stroke-width="0.9" fill="none"/>
<g class="tk" text-anchor="end">
<text x="285.7" y="373.2">36</text>
<text x="285.7" y="346.5">40</text>
<text x="285.7" y="319.9">44</text>
<text x="285.7" y="293.2">48</text>
<text x="285.7" y="266.6">52</text>
<text x="285.7" y="239.9">56</text>
<text x="285.7" y="213.3">60</text>
</g>
<g class="tk" text-anchor="middle">
<text x="290.3" y="384">0</text>
<text x="316.9" y="384">4</text>
<text x="343.4" y="384">8</text>
<text x="370" y="384">12</text>
<text x="396.6" y="384">16</text>
<text x="423.2" y="384">20</text>
<text x="449.8" y="384">24</text>
<text x="476.3" y="384">28</text>
<text x="502.9" y="384">32</text>
</g>
<text class="ax" text-anchor="middle" x="396.6" y="400">Longitude (degrees)</text>
<text class="ax ay" text-anchor="middle" transform="translate(267.7 289.6) rotate(-90)">Latitude (degrees)</text>
<text class="pl" x="435.5" y="224.8" textLength="62.3" lengthAdjust="spacingAndGlyphs">(d) IRI 2016</text>
<rect x="511.8" y="298.13" width="13" height="7.17" fill="#0001ff"/>
<rect x="511.8" y="291.26" width="13" height="7.17" fill="#0010ff"/>
<rect x="511.8" y="284.39" width="13" height="7.17" fill="#002fff"/>
<rect x="511.8" y="277.52" width="13" height="7.17" fill="#004bff"/>
<rect x="511.8" y="270.65" width="13" height="7.17" fill="#0063ff"/>
<rect x="511.8" y="263.77" width="13" height="7.17" fill="#007bfe"/>
<rect x="511.8" y="256.90" width="13" height="7.17" fill="#0093fe"/>
<rect x="511.8" y="250.03" width="13" height="7.17" fill="#00abfe"/>
<rect x="511.8" y="243.16" width="13" height="7.17" fill="#00c3fe"/>
<rect x="511.8" y="236.29" width="13" height="7.17" fill="#00dbfd"/>
<rect x="511.8" y="229.42" width="13" height="7.17" fill="#00f2fc"/>
<rect x="511.8" y="222.55" width="13" height="7.17" fill="#00f3db"/>
<rect x="511.8" y="215.68" width="13" height="7.17" fill="#00f4ba"/>
<rect x="511.8" y="208.81" width="13" height="7.17" fill="#00f499"/>
<rect x="511.8" y="201.94" width="13" height="7.17" fill="#00f578"/>
<rect x="511.8" y="195.06" width="13" height="7.17" fill="#02f657"/>
<rect x="511.8" y="188.19" width="13" height="7.17" fill="#35f746"/>
<rect x="511.8" y="181.32" width="13" height="7.17" fill="#68f834"/>
<rect x="511.8" y="174.45" width="13" height="7.17" fill="#9bf922"/>
<rect x="511.8" y="167.58" width="13" height="7.17" fill="#cefa11"/>
<rect x="511.8" y="160.71" width="13" height="7.17" fill="#fffa00"/>
<rect x="511.8" y="153.84" width="13" height="7.17" fill="#ffe100"/>
<rect x="511.8" y="146.97" width="13" height="7.17" fill="#ffc800"/>
<rect x="511.8" y="140.10" width="13" height="7.17" fill="#ffaf00"/>
<rect x="511.8" y="133.23" width="13" height="7.17" fill="#ff9600"/>
<rect x="511.8" y="126.35" width="13" height="7.17" fill="#ff7c00"/>
<rect x="511.8" y="119.48" width="13" height="7.17" fill="#ff6300"/>
<rect x="511.8" y="112.61" width="13" height="7.17" fill="#ff4a00"/>
<rect x="511.8" y="105.74" width="13" height="7.17" fill="#ff3100"/>
<rect x="511.8" y="98.87" width="13" height="7.17" fill="#ff1800"/>
<rect x="511.8" y="92.00" width="13" height="7.17" fill="#ff0000"/>
<g class="cb">
<text x="527.9" y="308.1">1.05</text>
<text x="527.9" y="273.7">1.3</text>
<text x="527.9" y="239.4">1.55</text>
<text x="527.9" y="205.0">1.8</text>
<text x="527.9" y="170.7">2.05</text>
<text x="527.9" y="136.3">2.3</text>
<text x="527.9" y="102.0">2.55</text>
</g>
</svg></body></html>
